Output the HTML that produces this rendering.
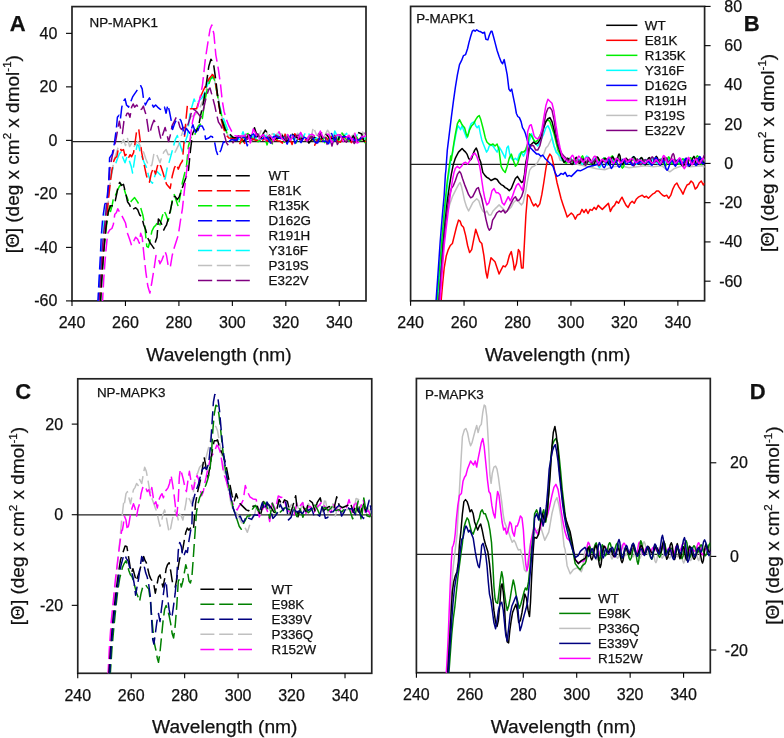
<!DOCTYPE html>
<html><head><meta charset="utf-8"><style>
html,body{margin:0;padding:0;background:#fff;width:784px;height:738px;overflow:hidden}
svg{display:block;will-change:transform}
text{font-family:"Liberation Sans", sans-serif;fill:#111;stroke:#111;stroke-width:0.25px}
</style></head><body>
<svg width="784" height="738" viewBox="0 0 784 738">
<rect x="72.00" y="6.60" width="294.00" height="294.30" fill="none" stroke="#222" stroke-width="1.7"/>
<line x1="72.00" y1="300.90" x2="72.00" y2="305.90" stroke="#000" stroke-width="1.1"/>
<text x="72.00" y="328.10" font-size="16" text-anchor="middle">240</text>
<line x1="125.45" y1="300.90" x2="125.45" y2="305.90" stroke="#000" stroke-width="1.1"/>
<text x="125.45" y="328.10" font-size="16" text-anchor="middle">260</text>
<line x1="178.91" y1="300.90" x2="178.91" y2="305.90" stroke="#000" stroke-width="1.1"/>
<text x="178.91" y="328.10" font-size="16" text-anchor="middle">280</text>
<line x1="232.36" y1="300.90" x2="232.36" y2="305.90" stroke="#000" stroke-width="1.1"/>
<text x="232.36" y="328.10" font-size="16" text-anchor="middle">300</text>
<line x1="285.82" y1="300.90" x2="285.82" y2="305.90" stroke="#000" stroke-width="1.1"/>
<text x="285.82" y="328.10" font-size="16" text-anchor="middle">320</text>
<line x1="339.27" y1="300.90" x2="339.27" y2="305.90" stroke="#000" stroke-width="1.1"/>
<text x="339.27" y="328.10" font-size="16" text-anchor="middle">340</text>
<line x1="66.00" y1="300.90" x2="72.00" y2="300.90" stroke="#000" stroke-width="1.1"/>
<text x="57.30" y="306.40" font-size="16" text-anchor="end">-60</text>
<line x1="66.00" y1="247.39" x2="72.00" y2="247.39" stroke="#000" stroke-width="1.1"/>
<text x="57.30" y="252.89" font-size="16" text-anchor="end">-40</text>
<line x1="66.00" y1="193.88" x2="72.00" y2="193.88" stroke="#000" stroke-width="1.1"/>
<text x="57.30" y="199.38" font-size="16" text-anchor="end">-20</text>
<line x1="66.00" y1="140.37" x2="72.00" y2="140.37" stroke="#000" stroke-width="1.1"/>
<text x="57.30" y="145.87" font-size="16" text-anchor="end">0</text>
<line x1="66.00" y1="86.86" x2="72.00" y2="86.86" stroke="#000" stroke-width="1.1"/>
<text x="57.30" y="92.36" font-size="16" text-anchor="end">20</text>
<line x1="66.00" y1="33.35" x2="72.00" y2="33.35" stroke="#000" stroke-width="1.1"/>
<text x="57.30" y="38.85" font-size="16" text-anchor="end">40</text>
<line x1="72.00" y1="141.70" x2="366.00" y2="141.70" stroke="#222" stroke-width="1.3"/>
<text x="219.00" y="360.80" font-size="19.2" text-anchor="middle">Wavelength (nm)</text>
<text x="89.50" y="26.80" font-size="13.4">NP-MAPK1</text>
<g transform="translate(18.70,154.25) rotate(-90)"><text x="-99.11" y="0" font-size="19.0">[O] (deg x cm<tspan font-size="11.5" dy="-7.5">2</tspan><tspan dy="7.5"> x dmol</tspan><tspan font-size="11.5" dy="-7.5">-1</tspan><tspan dy="7.5">)</tspan></text><path d="M-88.64,-6.54 H-84.24 M-88.64,-8.54 V-4.54 M-84.24,-8.54 V-4.54" stroke="#111" stroke-width="1.2" fill="none"/></g>
<rect x="410.60" y="6.40" width="294.00" height="294.40" fill="none" stroke="#222" stroke-width="1.7"/>
<line x1="410.60" y1="300.80" x2="410.60" y2="305.80" stroke="#000" stroke-width="1.1"/>
<text x="410.60" y="328.00" font-size="16" text-anchor="middle">240</text>
<line x1="464.05" y1="300.80" x2="464.05" y2="305.80" stroke="#000" stroke-width="1.1"/>
<text x="464.05" y="328.00" font-size="16" text-anchor="middle">260</text>
<line x1="517.51" y1="300.80" x2="517.51" y2="305.80" stroke="#000" stroke-width="1.1"/>
<text x="517.51" y="328.00" font-size="16" text-anchor="middle">280</text>
<line x1="570.96" y1="300.80" x2="570.96" y2="305.80" stroke="#000" stroke-width="1.1"/>
<text x="570.96" y="328.00" font-size="16" text-anchor="middle">300</text>
<line x1="624.42" y1="300.80" x2="624.42" y2="305.80" stroke="#000" stroke-width="1.1"/>
<text x="624.42" y="328.00" font-size="16" text-anchor="middle">320</text>
<line x1="677.87" y1="300.80" x2="677.87" y2="305.80" stroke="#000" stroke-width="1.1"/>
<text x="677.87" y="328.00" font-size="16" text-anchor="middle">340</text>
<line x1="704.60" y1="281.17" x2="710.60" y2="281.17" stroke="#000" stroke-width="1.1"/>
<text x="719.14" y="286.67" font-size="16">-60</text>
<line x1="704.60" y1="241.92" x2="710.60" y2="241.92" stroke="#000" stroke-width="1.1"/>
<text x="719.14" y="247.42" font-size="16">-40</text>
<line x1="704.60" y1="202.67" x2="710.60" y2="202.67" stroke="#000" stroke-width="1.1"/>
<text x="719.14" y="208.17" font-size="16">-20</text>
<line x1="704.60" y1="163.41" x2="710.60" y2="163.41" stroke="#000" stroke-width="1.1"/>
<text x="724.30" y="168.91" font-size="16">0</text>
<line x1="704.60" y1="124.16" x2="710.60" y2="124.16" stroke="#000" stroke-width="1.1"/>
<text x="724.30" y="129.66" font-size="16">20</text>
<line x1="704.60" y1="84.91" x2="710.60" y2="84.91" stroke="#000" stroke-width="1.1"/>
<text x="724.30" y="90.41" font-size="16">40</text>
<line x1="704.60" y1="45.65" x2="710.60" y2="45.65" stroke="#000" stroke-width="1.1"/>
<text x="724.30" y="51.15" font-size="16">60</text>
<line x1="704.60" y1="6.40" x2="710.60" y2="6.40" stroke="#000" stroke-width="1.1"/>
<text x="724.30" y="11.90" font-size="16">80</text>
<line x1="410.60" y1="164.40" x2="704.60" y2="164.40" stroke="#222" stroke-width="1.3"/>
<text x="557.60" y="360.70" font-size="19.2" text-anchor="middle">Wavelength (nm)</text>
<text x="416.20" y="23.00" font-size="13.4">P-MAPK1</text>
<g transform="translate(773.50,153.00) rotate(-90)"><text x="-99.11" y="0" font-size="19.0">[O] (deg x cm<tspan font-size="11.5" dy="-7.5">2</tspan><tspan dy="7.5"> x dmol</tspan><tspan font-size="11.5" dy="-7.5">-1</tspan><tspan dy="7.5">)</tspan></text><path d="M-88.64,-6.54 H-84.24 M-88.64,-8.54 V-4.54 M-84.24,-8.54 V-4.54" stroke="#111" stroke-width="1.2" fill="none"/></g>
<rect x="77.75" y="378.80" width="294.00" height="294.50" fill="none" stroke="#222" stroke-width="1.7"/>
<line x1="77.75" y1="673.30" x2="77.75" y2="678.30" stroke="#000" stroke-width="1.1"/>
<text x="77.75" y="700.50" font-size="16" text-anchor="middle">240</text>
<line x1="131.20" y1="673.30" x2="131.20" y2="678.30" stroke="#000" stroke-width="1.1"/>
<text x="131.20" y="700.50" font-size="16" text-anchor="middle">260</text>
<line x1="184.66" y1="673.30" x2="184.66" y2="678.30" stroke="#000" stroke-width="1.1"/>
<text x="184.66" y="700.50" font-size="16" text-anchor="middle">280</text>
<line x1="238.11" y1="673.30" x2="238.11" y2="678.30" stroke="#000" stroke-width="1.1"/>
<text x="238.11" y="700.50" font-size="16" text-anchor="middle">300</text>
<line x1="291.57" y1="673.30" x2="291.57" y2="678.30" stroke="#000" stroke-width="1.1"/>
<text x="291.57" y="700.50" font-size="16" text-anchor="middle">320</text>
<line x1="345.02" y1="673.30" x2="345.02" y2="678.30" stroke="#000" stroke-width="1.1"/>
<text x="345.02" y="700.50" font-size="16" text-anchor="middle">340</text>
<line x1="71.75" y1="605.34" x2="77.75" y2="605.34" stroke="#000" stroke-width="1.1"/>
<text x="63.05" y="610.84" font-size="16" text-anchor="end">-20</text>
<line x1="71.75" y1="514.72" x2="77.75" y2="514.72" stroke="#000" stroke-width="1.1"/>
<text x="63.05" y="520.22" font-size="16" text-anchor="end">0</text>
<line x1="71.75" y1="424.11" x2="77.75" y2="424.11" stroke="#000" stroke-width="1.1"/>
<text x="63.05" y="429.61" font-size="16" text-anchor="end">20</text>
<line x1="77.75" y1="514.90" x2="371.75" y2="514.90" stroke="#222" stroke-width="1.3"/>
<text x="224.75" y="733.20" font-size="19.2" text-anchor="middle">Wavelength (nm)</text>
<text x="96.90" y="397.40" font-size="13.4">NP-MAPK3</text>
<g transform="translate(24.20,526.05) rotate(-90)"><text x="-99.11" y="0" font-size="19.0">[O] (deg x cm<tspan font-size="11.5" dy="-7.5">2</tspan><tspan dy="7.5"> x dmol</tspan><tspan font-size="11.5" dy="-7.5">-1</tspan><tspan dy="7.5">)</tspan></text><path d="M-88.64,-6.54 H-84.24 M-88.64,-8.54 V-4.54 M-84.24,-8.54 V-4.54" stroke="#111" stroke-width="1.2" fill="none"/></g>
<rect x="416.40" y="378.50" width="293.90" height="294.20" fill="none" stroke="#222" stroke-width="1.7"/>
<line x1="416.40" y1="672.70" x2="416.40" y2="677.70" stroke="#000" stroke-width="1.1"/>
<text x="416.40" y="699.90" font-size="16" text-anchor="middle">240</text>
<line x1="469.84" y1="672.70" x2="469.84" y2="677.70" stroke="#000" stroke-width="1.1"/>
<text x="469.84" y="699.90" font-size="16" text-anchor="middle">260</text>
<line x1="523.27" y1="672.70" x2="523.27" y2="677.70" stroke="#000" stroke-width="1.1"/>
<text x="523.27" y="699.90" font-size="16" text-anchor="middle">280</text>
<line x1="576.71" y1="672.70" x2="576.71" y2="677.70" stroke="#000" stroke-width="1.1"/>
<text x="576.71" y="699.90" font-size="16" text-anchor="middle">300</text>
<line x1="630.15" y1="672.70" x2="630.15" y2="677.70" stroke="#000" stroke-width="1.1"/>
<text x="630.15" y="699.90" font-size="16" text-anchor="middle">320</text>
<line x1="683.58" y1="672.70" x2="683.58" y2="677.70" stroke="#000" stroke-width="1.1"/>
<text x="683.58" y="699.90" font-size="16" text-anchor="middle">340</text>
<line x1="710.30" y1="650.00" x2="716.30" y2="650.00" stroke="#000" stroke-width="1.1"/>
<text x="724.84" y="655.50" font-size="16">-20</text>
<line x1="710.30" y1="556.40" x2="716.30" y2="556.40" stroke="#000" stroke-width="1.1"/>
<text x="730.00" y="561.90" font-size="16">0</text>
<line x1="710.30" y1="462.79" x2="716.30" y2="462.79" stroke="#000" stroke-width="1.1"/>
<text x="730.00" y="468.29" font-size="16">20</text>
<line x1="416.40" y1="554.40" x2="710.30" y2="554.40" stroke="#222" stroke-width="1.3"/>
<text x="563.35" y="732.60" font-size="19.2" text-anchor="middle">Wavelength (nm)</text>
<text x="425.00" y="399.00" font-size="13.4">P-MAPK3</text>
<g transform="translate(779.20,525.60) rotate(-90)"><text x="-99.11" y="0" font-size="19.0">[O] (deg x cm<tspan font-size="11.5" dy="-7.5">2</tspan><tspan dy="7.5"> x dmol</tspan><tspan font-size="11.5" dy="-7.5">-1</tspan><tspan dy="7.5">)</tspan></text><path d="M-88.64,-6.54 H-84.24 M-88.64,-8.54 V-4.54 M-84.24,-8.54 V-4.54" stroke="#111" stroke-width="1.2" fill="none"/></g>
<clipPath id="clipA"><rect x="72.00" y="6.60" width="294.00" height="294.30"/></clipPath>
<g clip-path="url(#clipA)" fill="none" stroke-width="1.5" stroke-linejoin="round" stroke-dasharray="13 5">
<path d="M98.7,305.4 L100.1,278.3 L101.5,257.0 L102.7,241.3 L104.5,221.4 L106.5,207.1 L107.0,215.0 L110.0,185.0 L114.0,160.0 L118.0,148.0 L121.4,143.5 L123.5,139.5 L125.5,145.6 L127.5,138.5 L129.6,146.6 L131.6,143.5 L133.6,147.6 L135.7,143.5 L137.7,141.5 L139.7,144.6 L141.7,148.6 L143.8,152.7 L145.8,158.8 L147.8,163.9 L149.9,166.9 L151.9,164.9 L153.9,153.7 L156.0,152.7 L158.0,157.8 L160.0,162.8 L162.1,155.7 L164.1,151.7 L166.1,149.6 L168.2,154.7 L174.3,153.8 L178.3,145.7 L181.4,135.5 L184.4,127.4 L187.5,125.4 L190.5,117.2 L194.6,115.2 L198.7,111.1 L202.7,101.0 L205.8,90.8 L208.8,78.6 L211.3,73.5 L213.9,77.6 L217.0,90.8 L220.0,107.1 L223.0,121.3 L226.1,131.5 L229.1,137.6 L233.2,139.6 L235.8,137.5 L238.2,138.8 L240.9,136.2 L244.1,133.7 L246.4,133.4 L248.8,133.8 L251.5,141.4 L254.0,132.7 L256.3,135.8 L258.6,137.1 L261.8,128.8 L264.6,138.5 L267.7,132.9 L270.4,135.5 L272.8,133.6 L275.1,135.4 L278.1,133.2 L281.3,134.1 L284.5,132.5 L287.1,134.8 L289.7,137.8 L292.7,135.5 L295.0,140.0 L297.5,133.2 L300.0,136.3 L302.3,134.8 L305.5,139.9 L308.4,136.6 L311.2,136.9 L313.4,127.0 L316.6,135.3 L319.5,132.9 L322.6,138.5 L325.1,134.9 L327.6,130.2 L330.3,134.5 L332.5,134.9 L335.6,135.1 L338.3,137.3 L341.4,133.9 L343.9,134.1 L346.2,135.3 L349.3,135.3 L351.9,136.3 L354.1,134.1 L357.3,139.8 L359.6,141.5 L362.6,131.9 L365.7,137.9 L367.9,134.9 L370.7,134.9" stroke="#c0c0c0"/>
<path d="M98.4,305.4 L99.8,278.3 L101.3,257.0 L102.3,242.7 L104.1,221.4 L106.2,207.1 L108.0,195.0 L111.0,175.0 L113.3,166.9 L115.3,164.9 L117.4,158.8 L119.4,153.7 L121.4,151.7 L122.9,157.8 L125.0,162.8 L127.0,156.7 L129.0,159.8 L131.1,165.9 L132.6,173.0 L134.1,162.8 L135.7,152.7 L137.2,144.6 L138.7,145.6 L140.2,152.7 L142.3,157.8 L144.3,162.8 L146.3,166.9 L148.4,175.0 L150.4,181.1 L152.4,183.2 L154.5,177.1 L156.5,171.0 L158.5,173.0 L160.5,175.0 L162.6,179.1 L165.1,179.1 L167.2,167.9 L168.7,163.9 L175.3,139.6 L177.3,135.5 L180.4,145.7 L182.4,151.8 L184.4,143.7 L187.5,135.5 L189.9,113.7 L194.1,99.0 L196.0,103.9 L198.4,101.5 L202.1,97.8 L205.7,90.5 L209.4,79.5 L211.2,77.1 L213.7,79.5 L215.5,84.4 L217.9,99.0 L221.6,113.7 L224.0,119.8 L227.1,128.3 L230.1,135.6 L232.6,139.3 L234.8,139.4 L237.2,139.9 L240.1,139.2 L243.0,131.7 L246.1,140.6 L249.0,139.8 L251.2,138.3 L253.9,135.9 L257.0,140.0 L259.7,140.8 L262.0,137.2 L264.6,135.1 L267.6,137.1 L270.7,140.1 L273.2,132.6 L275.4,137.2 L278.1,134.9 L281.2,139.3 L284.2,139.3 L287.0,135.6 L289.7,136.8 L292.4,138.6 L294.8,139.2 L297.1,136.2 L300.0,133.5 L302.3,138.8 L305.2,133.4 L308.0,131.9 L310.9,138.1 L313.2,138.9 L316.1,137.7 L319.0,139.9 L321.2,138.3 L324.0,138.0 L326.4,138.3 L329.3,142.3 L332.2,142.9 L334.8,131.0 L337.6,136.8 L340.3,141.9 L343.4,136.8 L346.6,133.2 L348.8,140.8 L351.9,138.3 L354.3,138.7 L357.2,134.7 L359.9,135.6 L362.4,139.4 L364.9,138.4 L368.0,133.0 L370.3,137.4" stroke="#00ffff"/>
<path d="M100.5,305.4 L102.0,278.3 L103.4,257.0 L104.8,241.3 L106.2,228.5 L107.7,215.7 L109.8,205.7 L110.2,212.8 L112.3,204.7 L113.7,196.6 L115.3,195.6 L117.4,190.5 L119.4,186.4 L121.4,184.4 L123.5,186.4 L125.5,193.5 L127.5,198.6 L129.6,203.7 L131.6,200.7 L134.6,197.6 L136.7,200.7 L138.7,203.7 L140.7,207.8 L142.8,214.9 L144.8,225.0 L145.8,237.2 L146.8,246.4 L148.3,247.4 L149.9,241.3 L151.9,231.1 L153.9,227.1 L156.0,225.0 L158.0,221.0 L160.0,225.0 L162.1,216.9 L164.1,210.8 L166.1,214.9 L168.2,221.0 L170.2,212.8 L172.2,200.7 L174.3,194.6 L176.3,200.7 L178.3,206.7 L180.4,194.6 L182.4,182.4 L186.5,166.0 L188.5,145.7 L191.5,135.5 L194.6,135.5 L196.6,129.4 L198.7,125.4 L201.7,123.3 L204.8,101.0 L207.8,86.7 L210.9,78.6 L212.9,76.6 L214.9,80.7 L217.0,92.8 L220.0,109.1 L223.0,121.3 L227.1,133.5 L231.2,137.6 L233.3,137.3 L235.7,139.9 L238.1,136.0 L241.0,142.5 L244.1,136.0 L247.3,133.8 L250.1,133.3 L252.5,139.8 L255.1,139.2 L258.1,141.7 L261.2,139.4 L263.9,135.6 L267.1,144.9 L269.5,134.7 L272.4,143.8 L274.8,141.9 L277.5,138.9 L280.1,136.6 L282.7,138.2 L285.0,143.3 L287.8,135.3 L290.7,138.1 L293.3,138.0 L295.6,144.2 L297.8,138.7 L300.5,139.5 L302.8,136.3 L305.4,137.3 L308.3,138.1 L311.1,136.0 L313.5,140.6 L316.1,139.5 L319.2,143.1 L322.0,136.3 L325.1,143.5 L327.5,140.6 L329.7,135.6 L332.8,140.9 L335.6,135.2 L338.3,142.4 L341.3,132.0 L344.3,136.6 L346.5,139.7 L348.7,140.0 L351.4,142.3 L353.8,141.3 L356.3,136.5 L359.3,141.2 L362.2,139.5 L364.6,143.3 L367.3,133.5 L369.6,140.5" stroke="#00ee00"/>
<path d="M99.8,305.4 L101.3,278.3 L102.7,259.8 L104.1,242.7 L105.5,228.5 L107.0,214.2 L108.4,200.0 L110.2,183.2 L111.8,171.0 L113.8,160.8 L115.3,157.8 L116.8,156.7 L118.4,148.6 L119.9,147.6 L121.4,150.7 L123.5,149.6 L125.0,155.7 L127.0,153.7 L128.5,157.8 L130.1,154.7 L131.6,156.7 L133.6,152.7 L135.1,142.5 L136.7,130.3 L138.7,128.8 L140.2,140.5 L141.7,152.7 L143.3,160.8 L144.8,167.9 L146.3,175.0 L147.8,180.1 L149.4,182.2 L151.4,173.0 L153.4,167.9 L155.5,174.0 L157.5,165.9 L159.0,162.8 L161.1,166.9 L163.1,173.0 L165.1,180.1 L166.6,184.2 L170.2,188.5 L172.2,176.3 L174.3,168.1 L176.3,164.1 L178.3,169.1 L180.4,164.1 L182.4,161.0 L186.2,117.3 L187.4,105.1 L190.5,108.8 L193.5,108.8 L196.6,108.8 L199.6,99.0 L203.3,90.5 L206.3,84.4 L209.4,78.3 L212.4,74.6 L213.7,75.9 L215.5,83.2 L217.3,94.1 L219.1,106.3 L221.0,118.5 L223.4,128.3 L226.5,135.6 L228.9,138.0 L231.5,138.2 L233.8,138.5 L236.3,138.7 L239.5,144.8 L241.7,138.3 L244.7,143.4 L247.6,136.7 L250.0,138.1 L253.0,139.3 L256.1,140.4 L259.0,139.9 L262.1,141.5 L264.4,137.6 L267.2,141.3 L269.5,138.0 L271.8,142.0 L274.8,139.4 L277.5,140.7 L279.8,140.9 L282.4,143.1 L285.1,134.1 L287.4,144.8 L289.7,138.1 L292.1,144.5 L294.8,133.7 L297.7,138.8 L300.6,139.3 L303.4,142.2 L305.9,139.2 L308.7,140.0 L311.5,136.8 L314.6,145.3 L317.4,139.5 L320.5,138.6 L323.3,141.6 L326.1,137.4 L329.2,141.7 L331.8,136.3 L334.8,136.9 L337.5,141.3 L340.5,142.3 L342.8,137.5 L345.9,138.3 L348.3,136.8 L351.4,142.7 L353.7,137.2 L355.9,139.0 L358.4,138.7 L361.3,138.6 L364.3,140.8 L367.4,142.5 L370.2,140.3" stroke="#ff0000"/>
<path d="M100.3,305.4 L101.7,279.8 L103.1,259.8 L104.5,242.7 L106.2,225.6 L108.4,211.4 L110.5,205.7 L113.3,205.7 L115.3,200.7 L117.0,192.5 L118.4,184.4 L119.8,182.4 L121.4,185.4 L123.5,184.4 L125.5,192.5 L127.5,201.7 L129.6,204.7 L131.6,209.8 L133.6,208.8 L135.7,207.8 L137.7,209.8 L139.7,214.9 L141.7,216.9 L143.8,225.0 L145.8,230.1 L147.4,237.2 L148.9,240.3 L150.3,243.3 L151.9,245.4 L153.9,248.4 L155.6,241.3 L157.0,237.2 L158.4,218.9 L160.0,221.0 L162.1,225.0 L163.7,230.1 L165.1,227.1 L166.5,225.0 L168.2,218.9 L169.8,212.8 L171.2,206.7 L173.3,196.6 L175.3,196.6 L177.3,199.6 L179.3,196.6 L181.4,190.5 L188.5,170.1 L190.5,149.8 L192.6,133.5 L194.6,129.4 L196.6,131.5 L198.7,125.4 L200.7,115.2 L203.7,101.0 L206.8,80.7 L208.8,66.4 L210.9,59.3 L213.3,62.4 L215.9,80.7 L218.0,98.9 L221.0,117.2 L225.1,129.4 L229.1,133.5 L233.2,137.6 L235.9,137.8 L238.6,136.1 L240.9,136.8 L243.3,141.5 L246.2,138.3 L248.4,134.6 L251.3,136.0 L254.5,127.7 L257.1,136.0 L260.0,140.2 L262.6,134.8 L265.3,130.1 L268.5,134.9 L271.0,139.0 L273.7,139.9 L276.4,138.2 L279.1,138.2 L281.5,133.5 L284.5,140.1 L287.3,141.5 L289.7,136.0 L292.5,134.2 L295.2,136.8 L297.5,137.5 L300.5,139.3 L303.6,137.7 L306.7,139.9 L308.9,143.1 L312.0,139.4 L314.3,137.0 L316.8,139.3 L319.8,132.6 L322.2,138.7 L324.6,133.2 L326.8,134.9 L329.7,138.4 L332.8,138.3 L335.0,137.8 L337.6,141.6 L339.8,134.9 L342.0,137.2 L344.3,136.0 L347.4,138.9 L350.4,140.7 L353.3,135.9 L355.6,140.0 L358.8,132.6 L361.7,134.0 L364.0,141.2 L366.6,136.6 L369.7,136.5" stroke="#000000"/>
<path d="M98.8,305.4 L100.3,279.8 L101.7,257.0 L103.4,235.6 L105.1,221.4 L106.5,205.7 L107.6,196.6 L109.6,172.2 L110.2,166.0 L112.3,155.9 L114.3,147.7 L116.3,137.6 L118.4,125.4 L119.4,121.3 L121.0,131.5 L122.4,133.5 L123.9,121.3 L125.5,117.2 L127.1,113.2 L128.5,113.2 L130.0,117.2 L131.6,107.1 L133.2,104.0 L134.6,107.1 L136.7,105.0 L138.1,107.1 L139.7,110.1 L141.7,109.1 L143.4,106.1 L144.8,111.1 L146.2,115.2 L147.4,123.3 L148.9,133.5 L150.3,131.5 L151.9,125.4 L153.9,120.3 L156.0,123.3 L158.0,125.4 L159.6,133.5 L161.1,139.6 L163.1,133.5 L165.1,127.4 L167.2,135.5 L168.6,141.6 L170.2,135.5 L172.2,125.4 L174.3,121.3 L176.3,117.2 L178.3,121.3 L180.0,127.4 L181.4,129.4 L183.4,127.4 L186.8,128.3 L189.9,118.5 L192.3,108.8 L194.8,110.0 L197.2,112.4 L200.9,117.3 L203.3,110.0 L206.3,96.6 L208.8,89.3 L210.0,88.0 L212.4,96.6 L214.9,106.3 L216.7,114.9 L218.5,122.2 L221.0,125.9 L222.8,130.7 L224.6,135.6 L226.5,142.9 L228.3,145.4 L230.1,144.1 L232.1,143.8 L235.3,139.3 L238.5,136.4 L241.2,138.2 L244.2,135.3 L247.1,139.5 L249.6,136.5 L252.8,142.4 L255.2,135.1 L257.9,133.8 L260.5,139.9 L262.9,137.4 L265.3,138.5 L267.8,136.9 L270.8,141.7 L273.1,144.2 L275.7,135.2 L278.6,136.9 L280.9,138.0 L283.8,133.9 L286.1,139.6 L288.4,136.0 L290.8,140.0 L293.7,138.7 L296.4,135.4 L298.7,135.2 L301.6,140.8 L304.7,137.8 L307.4,141.2 L310.1,138.0 L312.6,136.4 L315.5,144.3 L318.6,139.0 L321.7,132.7 L324.5,135.0 L327.1,144.4 L329.5,136.5 L332.0,146.1 L334.8,135.3 L337.4,144.5 L340.2,139.4 L343.2,139.0 L346.4,142.2 L348.8,136.8 L351.6,139.3 L354.3,143.5 L356.7,139.8 L359.1,139.8 L362.3,135.6 L365.2,133.0 L367.8,138.1 L370.1,138.7" stroke="#800080"/>
<path d="M97.7,305.4 L99.1,278.3 L100.3,257.0 L101.3,235.6 L102.7,218.5 L104.8,204.3 L106.8,200.7 L108.8,180.3 L109.6,157.9 L112.3,153.8 L114.3,143.7 L116.3,129.4 L117.4,117.2 L119.0,115.2 L120.4,119.3 L121.8,107.1 L123.5,101.0 L125.1,98.9 L126.5,105.0 L128.5,107.1 L130.6,102.0 L132.6,96.9 L134.6,93.9 L136.7,90.8 L138.7,88.8 L140.7,85.7 L142.2,88.8 L143.4,97.9 L145.4,105.0 L147.4,101.0 L149.5,97.9 L151.5,103.0 L153.5,107.1 L155.6,105.0 L157.6,107.1 L160.0,109.1 L162.5,110.1 L164.5,107.1 L166.1,113.2 L167.8,105.0 L169.4,111.1 L171.0,119.3 L172.6,129.4 L174.7,123.3 L176.7,119.3 L178.7,118.3 L180.8,120.3 L182.4,125.4 L184.0,135.5 L186.2,128.3 L189.9,133.2 L192.9,124.6 L194.8,130.7 L196.6,134.4 L199.6,125.9 L202.1,125.9 L203.9,129.5 L205.7,139.3 L208.8,138.0 L210.6,136.2 L212.4,136.8 L214.3,140.5 L216.1,150.2 L218.0,155.9 L221.0,149.8 L223.5,141.6 L226.1,143.7 L229.1,141.6 L231.2,139.6 L234.1,140.0 L236.9,140.5 L239.5,135.2 L241.8,137.0 L244.7,137.4 L247.3,145.8 L249.7,139.1 L252.7,133.3 L255.9,136.9 L259.0,138.7 L261.6,139.2 L264.6,137.1 L267.5,138.0 L270.6,143.1 L273.4,136.6 L275.6,136.8 L278.7,137.9 L281.4,138.5 L284.3,137.6 L287.2,144.1 L289.9,137.0 L292.5,132.2 L295.1,143.5 L298.0,138.0 L301.0,142.6 L304.1,137.1 L306.8,138.6 L309.9,138.2 L312.5,137.8 L315.1,142.2 L317.7,143.0 L320.3,137.1 L323.0,141.6 L325.4,141.0 L328.6,143.7 L331.6,133.4 L334.6,141.1 L337.7,134.9 L340.4,136.8 L343.1,136.7 L346.2,136.8 L349.0,139.2 L351.6,135.3 L354.2,140.4 L357.0,140.1 L359.8,139.7 L362.1,136.8 L365.3,137.4 L367.9,139.0 L370.2,147.2" stroke="#0000ff"/>
<path d="M102.3,305.4 L103.7,279.8 L104.8,264.1 L106.0,249.9 L107.0,239.9 L108.0,232.8 L109.8,229.9 L111.9,228.5 L113.4,224.2 L114.8,214.2 L116.3,212.8 L117.8,208.8 L119.4,211.8 L121.4,214.9 L123.5,218.9 L125.5,223.0 L127.5,233.2 L129.6,239.3 L131.6,245.4 L133.6,241.3 L135.7,237.2 L137.7,239.3 L139.3,243.3 L140.7,233.2 L142.2,237.2 L143.8,253.5 L145.8,271.8 L147.8,286.0 L149.9,293.1 L151.9,282.0 L153.9,269.8 L156.0,255.5 L158.0,257.6 L160.0,263.7 L162.1,259.6 L165.1,251.5 L166.5,255.5 L168.2,265.7 L170.2,267.7 L172.2,255.5 L174.3,247.4 L176.3,241.3 L178.3,235.2 L180.4,221.0 L182.4,208.8 L184.4,190.5 L186.5,172.2 L188.5,155.9 L190.5,135.5 L192.6,121.3 L194.6,113.2 L196.6,111.1 L198.7,103.0 L200.7,94.9 L202.5,85.0 L205.4,58.6 L208.2,40.6 L210.1,29.2 L211.8,25.0 L213.9,34.0 L215.8,54.8 L218.2,68.1 L220.1,81.4 L220.4,83.2 L222.2,100.2 L224.0,111.2 L226.5,119.8 L228.9,125.9 L231.3,130.7 L233.8,135.6 L236.6,135.9 L239.0,136.2 L241.6,135.9 L244.5,136.0 L247.5,131.9 L250.3,143.0 L253.3,128.9 L255.9,133.8 L258.3,139.9 L260.9,136.4 L263.4,134.6 L265.8,140.4 L268.2,135.5 L270.7,136.1 L273.3,141.0 L276.0,136.3 L279.1,131.8 L281.6,138.2 L284.8,140.9 L287.7,134.5 L290.3,140.3 L293.2,136.3 L295.5,136.7 L298.1,138.8 L300.7,132.4 L303.8,139.9 L306.7,140.8 L309.5,135.1 L312.2,134.2 L314.9,136.3 L317.3,138.0 L320.3,131.0 L323.2,137.6 L325.8,134.1 L328.7,134.3 L331.8,142.4 L334.9,137.6 L337.8,134.5 L340.7,135.9 L343.7,142.5 L346.3,137.3 L349.0,135.2 L352.1,140.5 L354.8,133.2 L357.1,143.1 L360.0,141.2 L362.2,136.3 L364.5,136.7 L367.1,135.0 L370.3,141.0" stroke="#ff00ff"/>
</g>
<clipPath id="clipB"><rect x="410.60" y="6.40" width="294.00" height="294.40"/></clipPath>
<g clip-path="url(#clipB)" fill="none" stroke-width="1.5" stroke-linejoin="round">
<path d="M438.1,300.0 L440.2,272.0 L442.2,247.6 L444.2,229.3 L446.3,217.1 L448.3,208.9 L450.3,202.8 L452.4,196.7 L454.4,192.7 L456.4,188.6 L458.5,184.6 L460.1,182.5 L461.5,186.6 L462.9,192.7 L464.6,200.8 L466.6,206.9 L468.6,211.0 L470.7,206.9 L472.7,202.8 L474.7,200.8 L476.7,198.8 L478.8,200.8 L480.8,206.9 L482.8,211.0 L484.9,213.0 L486.9,211.0 L488.9,215.0 L491.0,215.0 L493.0,211.0 L495.0,208.9 L497.1,206.9 L499.1,204.9 L501.1,206.9 L503.2,208.9 L505.2,211.0 L507.2,211.0 L509.3,208.9 L511.3,206.9 L513.3,202.8 L515.4,200.8 L517.4,198.8 L519.4,202.8 L521.5,204.9 L523.1,202.8 L524.5,196.7 L525.9,190.7 L527.6,180.5 L529.6,170.3 L531.6,167.3 L533.7,166.3 L535.7,165.2 L537.7,162.2 L539.8,158.1 L543.8,154.1 L545.9,148.0 L547.9,146.0 L549.9,142.0 L552.0,137.9 L554.0,146.0 L556.0,150.1 L558.0,154.1 L560.1,160.2 L596.6,168.8 L604.7,169.8 L612.8,166.7 L621.0,165.7 L629.1,167.8 L637.2,166.7 L645.4,165.7 L653.5,166.7 L661.6,165.7 L665.7,168.8 L669.8,171.8 L673.8,168.8 L682.0,165.7 L690.1,166.7 L702.3,165.7 L703.4,166.0 L704.5,166.8 L705.6,167.5 L706.7,167.8 L707.3,167.3 L708.0,166.0 L708.6,164.7 L709.3,164.2 L710.2,165.3 L711.2,168.1 L712.2,170.8 L713.1,171.9" stroke="#c0c0c0"/>
<path d="M437.7,300.0 L439.8,272.0 L441.8,247.6 L443.8,223.2 L445.9,200.8 L447.9,180.5 L449.9,166.3 L451.3,156.1 L452.4,154.1 L454.4,142.0 L456.4,131.8 L458.0,125.7 L459.5,127.7 L460.5,129.8 L462.1,125.7 L463.5,129.8 L465.0,133.8 L466.6,137.9 L468.2,133.8 L469.6,127.7 L471.1,123.7 L472.7,122.6 L474.3,121.6 L475.7,125.7 L477.2,127.7 L478.8,125.7 L480.4,133.8 L481.8,139.9 L483.3,144.0 L484.9,148.0 L486.5,152.1 L487.9,150.1 L489.3,146.0 L491.0,145.0 L493.0,146.0 L495.0,149.1 L497.1,152.1 L499.1,147.0 L501.1,150.1 L503.2,154.1 L505.2,158.2 L506.8,148.0 L508.3,146.0 L509.7,154.1 L511.3,158.2 L513.3,160.2 L515.4,158.2 L517.4,160.2 L519.4,154.1 L521.5,152.1 L523.5,156.2 L525.5,152.1 L527.6,146.0 L529.6,139.9 L531.6,133.8 L533.7,139.9 L535.7,144.0 L537.7,146.0 L539.8,142.0 L541.8,137.9 L543.8,133.8 L545.9,127.7 L547.9,125.7 L549.9,129.8 L552.0,137.9 L554.0,146.0 L556.0,152.1 L558.0,154.1 L560.1,156.2 L562.1,160.2 L563.1,160.5 L564.0,161.0 L565.0,161.5 L566.0,161.7 L567.1,161.2 L568.1,160.1 L569.2,158.9 L570.3,158.4 L571.4,159.2 L572.4,161.0 L573.5,162.8 L574.5,163.6 L575.6,163.0 L576.6,161.5 L577.7,160.1 L578.7,159.4 L579.6,160.2 L580.6,161.9 L581.5,163.6 L582.5,164.3 L583.5,163.1 L584.6,160.2 L585.7,157.2 L586.8,156.0 L587.7,157.0 L588.7,159.5 L589.7,162.1 L590.7,163.1 L591.8,162.4 L592.8,160.7 L593.9,159.0 L594.9,158.3 L596.1,159.6 L597.2,162.9 L598.3,166.2 L599.4,167.6 L600.5,166.2 L601.7,162.8 L602.8,159.3 L603.9,157.9 L604.8,159.0 L605.6,161.5 L606.5,164.0 L607.4,165.0 L608.3,164.2 L609.2,162.0 L610.2,159.8 L611.1,158.9 L611.9,159.4 L612.7,160.6 L613.5,161.7 L614.3,162.2 L615.4,161.7 L616.6,160.7 L617.7,159.6 L618.8,159.1 L619.6,159.8 L620.4,161.6 L621.1,163.3 L621.9,164.0 L622.9,163.3 L623.9,161.7 L624.8,160.0 L625.8,159.3 L626.9,159.9 L627.9,161.3 L629.0,162.6 L630.0,163.2 L630.9,162.2 L631.8,159.8 L632.6,157.5 L633.5,156.5 L634.3,157.7 L635.0,160.4 L635.8,163.2 L636.6,164.4 L637.3,163.5 L638.1,161.5 L638.9,159.5 L639.7,158.7 L640.5,159.5 L641.2,161.4 L642.0,163.3 L642.8,164.1 L643.5,163.4 L644.3,161.7 L645.1,160.1 L645.8,159.4 L646.9,160.1 L648.0,161.8 L649.1,163.5 L650.2,164.2 L651.0,163.2 L651.7,161.0 L652.4,158.8 L653.2,157.8 L654.3,158.7 L655.4,160.8 L656.5,163.0 L657.6,163.8 L658.8,163.0 L659.9,161.1 L661.0,159.2 L662.2,158.4 L663.0,158.9 L663.8,160.3 L664.6,161.7 L665.4,162.2 L666.1,161.8 L666.8,160.7 L667.5,159.6 L668.2,159.2 L668.9,159.7 L669.6,160.8 L670.3,161.9 L671.0,162.4 L672.1,162.0 L673.2,161.0 L674.4,160.1 L675.5,159.7 L676.5,160.3 L677.5,161.8 L678.4,163.3 L679.4,163.9 L680.2,163.2 L681.1,161.5 L681.9,159.7 L682.8,159.0 L683.5,159.4 L684.2,160.5 L684.9,161.6 L685.6,162.1 L686.5,161.6 L687.4,160.6 L688.3,159.6 L689.2,159.2 L689.9,159.7 L690.6,160.7 L691.2,161.8 L691.9,162.2 L692.8,161.8 L693.8,160.9 L694.7,160.0 L695.7,159.6 L696.7,160.2 L697.6,161.6 L698.6,163.0 L699.5,163.6 L700.5,163.0 L701.4,161.5 L702.3,160.1 L703.3,159.5 L704.2,159.9 L705.1,160.9 L706.0,161.8 L707.0,162.2 L708.0,161.1 L709.0,158.4 L710.0,155.7 L711.0,154.5" stroke="#00ffff"/>
<path d="M437.1,300.0 L439.1,272.0 L441.2,247.6 L443.2,223.2 L445.2,200.8 L447.3,180.5 L449.3,166.3 L450.7,156.1 L451.3,160.2 L453.4,146.0 L455.4,133.8 L457.4,123.7 L459.5,119.6 L461.5,123.7 L462.9,125.7 L464.6,127.7 L466.2,133.8 L467.6,136.9 L469.6,129.8 L471.7,125.7 L473.7,123.7 L475.7,119.6 L477.8,116.5 L479.2,115.5 L480.8,119.6 L482.4,125.7 L483.9,131.8 L485.3,137.9 L486.9,142.0 L488.9,144.0 L491.0,145.0 L493.0,144.0 L495.0,146.0 L497.1,144.0 L499.1,150.1 L501.1,166.3 L503.2,170.3 L505.2,172.4 L507.2,166.3 L509.3,158.1 L511.3,154.1 L513.3,160.2 L515.4,166.3 L517.4,164.2 L519.4,158.1 L521.5,152.0 L523.5,152.1 L525.5,150.1 L527.6,144.0 L529.6,133.8 L531.6,135.9 L533.7,139.9 L535.7,142.0 L537.7,139.9 L539.8,135.9 L541.8,131.8 L543.8,125.7 L545.9,121.6 L547.9,119.6 L549.9,121.6 L552.0,127.7 L554.0,133.8 L556.0,142.0 L558.0,150.1 L560.1,154.1 L562.1,158.2 L564.1,162.3 L566.2,163.3 L567.2,162.5 L568.1,160.7 L569.1,158.8 L570.1,158.1 L570.8,158.6 L571.5,160.0 L572.2,161.4 L572.9,161.9 L573.7,161.7 L574.5,161.1 L575.3,160.6 L576.2,160.3 L577.0,160.7 L577.8,161.4 L578.6,162.2 L579.4,162.5 L580.2,161.6 L580.9,159.2 L581.7,156.9 L582.5,155.9 L583.3,157.3 L584.1,160.4 L584.9,163.6 L585.7,165.0 L586.6,164.3 L587.5,162.6 L588.3,160.9 L589.2,160.2 L590.0,161.0 L590.8,163.0 L591.5,164.9 L592.3,165.7 L593.4,164.6 L594.5,161.9 L595.6,159.1 L596.7,158.0 L597.6,158.5 L598.5,159.9 L599.3,161.2 L600.2,161.7 L601.3,161.2 L602.4,159.8 L603.4,158.5 L604.5,157.9 L605.4,158.5 L606.3,160.0 L607.2,161.4 L608.1,162.0 L609.1,161.1 L610.2,158.9 L611.3,156.8 L612.4,155.9 L613.2,157.0 L614.0,159.6 L614.7,162.1 L615.5,163.2 L616.2,162.5 L616.9,160.7 L617.6,158.9 L618.3,158.2 L619.3,159.6 L620.4,163.2 L621.4,166.7 L622.4,168.1 L623.4,166.9 L624.4,164.1 L625.4,161.2 L626.4,160.0 L627.3,160.2 L628.2,160.9 L629.1,161.5 L630.0,161.8 L631.1,161.3 L632.2,160.2 L633.4,159.1 L634.5,158.6 L635.5,159.1 L636.4,160.3 L637.4,161.5 L638.4,162.0 L639.1,161.4 L639.9,159.9 L640.6,158.4 L641.3,157.8 L642.1,158.8 L642.9,161.3 L643.7,163.7 L644.5,164.7 L645.4,164.0 L646.4,162.1 L647.4,160.2 L648.3,159.4 L649.3,160.1 L650.3,161.8 L651.2,163.5 L652.2,164.2 L653.1,163.6 L653.9,162.1 L654.8,160.7 L655.6,160.1 L656.3,160.4 L656.9,161.2 L657.6,162.0 L658.2,162.4 L658.9,161.9 L659.7,160.7 L660.4,159.5 L661.1,159.1 L662.2,160.1 L663.3,162.7 L664.4,165.3 L665.5,166.3 L666.2,164.9 L667.0,161.5 L667.8,158.2 L668.6,156.8 L669.4,157.8 L670.3,160.3 L671.2,162.8 L672.0,163.8 L672.7,163.2 L673.3,161.9 L674.0,160.5 L674.7,159.9 L675.8,160.5 L676.8,162.1 L677.9,163.6 L679.0,164.2 L679.9,163.4 L680.9,161.5 L681.9,159.6 L682.9,158.8 L683.7,159.4 L684.6,160.9 L685.5,162.3 L686.3,162.9 L687.4,162.2 L688.5,160.3 L689.6,158.5 L690.6,157.7 L691.3,158.5 L691.9,160.2 L692.6,161.9 L693.3,162.7 L694.3,161.6 L695.3,159.2 L696.4,156.7 L697.4,155.7 L698.4,157.0 L699.4,160.0 L700.4,163.1 L701.3,164.4 L702.2,163.7 L703.1,161.9 L703.9,160.2 L704.8,159.5 L705.7,160.3 L706.7,162.2 L707.7,164.1 L708.7,164.9 L709.8,164.2 L710.9,162.5 L712.0,160.8 L713.1,160.1" stroke="#00ee00"/>
<path d="M439.1,300.0 L441.2,272.0 L443.2,243.5 L445.2,221.1 L447.3,200.8 L449.3,186.6 L451.3,174.4 L453.4,164.2 L455.4,158.1 L456.4,156.2 L458.5,152.1 L460.5,150.1 L462.1,148.5 L463.5,150.1 L465.6,152.1 L467.0,154.1 L468.6,158.2 L470.2,160.2 L471.7,158.2 L473.1,154.1 L474.7,150.1 L476.3,148.0 L477.8,152.1 L479.2,158.2 L480.8,162.3 L482.8,172.4 L484.9,175.4 L486.9,177.4 L488.9,178.5 L491.0,180.5 L493.0,179.5 L495.0,178.5 L497.1,179.5 L499.1,182.5 L501.1,184.6 L503.2,185.6 L505.2,187.6 L507.2,188.6 L509.3,190.7 L511.3,188.6 L513.3,183.5 L515.4,178.5 L517.4,176.4 L519.4,179.5 L521.5,182.5 L523.1,181.5 L524.5,174.4 L525.9,162.2 L527.6,154.1 L529.6,146.0 L531.6,144.0 L533.7,142.0 L535.7,144.0 L537.7,143.0 L539.8,139.9 L541.8,133.8 L543.8,127.7 L545.9,121.6 L547.9,118.6 L549.9,117.6 L552.0,121.6 L554.0,129.8 L556.0,137.9 L558.0,146.0 L560.1,152.1 L562.1,158.2 L564.1,162.3 L565.0,161.7 L565.9,160.2 L566.8,158.8 L567.6,158.2 L568.8,159.1 L569.9,161.3 L571.0,163.6 L572.1,164.5 L573.2,163.4 L574.2,160.9 L575.3,158.4 L576.4,157.3 L577.1,158.2 L577.8,160.4 L578.6,162.5 L579.3,163.4 L580.3,162.8 L581.2,161.2 L582.2,159.7 L583.1,159.0 L583.9,159.7 L584.8,161.2 L585.6,162.7 L586.4,163.4 L587.2,162.7 L588.0,161.2 L588.8,159.7 L589.6,159.1 L590.5,160.0 L591.4,162.3 L592.4,164.6 L593.3,165.5 L594.2,164.2 L595.2,161.2 L596.1,158.1 L597.0,156.9 L598.1,157.7 L599.3,159.8 L600.4,161.8 L601.6,162.7 L602.5,162.0 L603.5,160.5 L604.4,158.9 L605.4,158.3 L606.4,159.2 L607.4,161.6 L608.4,164.0 L609.5,165.0 L610.2,163.8 L611.0,161.0 L611.8,158.1 L612.5,156.9 L613.4,157.7 L614.3,159.6 L615.2,161.4 L616.1,162.2 L616.9,161.0 L617.6,158.1 L618.4,155.2 L619.1,154.0 L619.9,155.5 L620.6,159.3 L621.4,163.0 L622.2,164.6 L623.1,163.7 L624.1,161.4 L625.0,159.2 L626.0,158.2 L626.8,158.8 L627.6,160.2 L628.4,161.6 L629.2,162.2 L630.3,161.4 L631.5,159.4 L632.6,157.5 L633.7,156.7 L634.8,157.5 L635.8,159.3 L636.9,161.2 L638.0,162.0 L638.9,161.4 L639.7,159.8 L640.6,158.3 L641.5,157.6 L642.5,158.7 L643.5,161.1 L644.5,163.6 L645.5,164.6 L646.4,163.6 L647.3,161.1 L648.2,158.6 L649.2,157.5 L650.1,158.4 L651.0,160.7 L651.9,162.9 L652.8,163.8 L653.7,162.7 L654.5,160.1 L655.4,157.5 L656.3,156.4 L657.3,157.6 L658.3,160.7 L659.3,163.7 L660.3,164.9 L661.3,163.9 L662.2,161.4 L663.1,158.9 L664.1,157.9 L665.1,158.5 L666.2,160.1 L667.3,161.6 L668.3,162.2 L669.1,161.9 L669.8,160.9 L670.6,160.0 L671.4,159.6 L672.1,159.9 L672.9,160.8 L673.6,161.6 L674.4,162.0 L675.5,161.7 L676.5,161.1 L677.6,160.4 L678.6,160.2 L679.7,161.1 L680.9,163.2 L682.0,165.3 L683.2,166.2 L684.0,165.0 L684.8,162.3 L685.7,159.5 L686.5,158.4 L687.3,159.5 L688.1,162.3 L688.8,165.0 L689.6,166.1 L690.7,164.7 L691.8,161.2 L692.9,157.8 L693.9,156.3 L694.6,157.6 L695.3,160.6 L696.1,163.6 L696.8,164.9 L697.7,164.0 L698.7,161.8 L699.6,159.6 L700.6,158.6 L701.5,159.3 L702.4,161.0 L703.3,162.7 L704.2,163.3 L705.2,162.7 L706.1,161.1 L707.1,159.4 L708.0,158.8 L708.8,159.2 L709.6,160.3 L710.4,161.4 L711.2,161.8" stroke="#000000"/>
<path d="M441.2,300.0 L442.6,284.1 L444.2,267.9 L446.3,255.7 L448.3,249.6 L450.3,245.5 L452.4,243.5 L454.4,235.4 L456.4,227.2 L458.5,220.1 L460.1,221.1 L461.5,225.2 L463.5,227.2 L465.6,235.4 L467.6,245.5 L469.6,252.6 L471.7,249.6 L473.7,239.4 L475.7,229.3 L477.8,235.4 L479.8,241.5 L481.8,243.5 L483.9,255.7 L485.9,272.0 L487.3,278.0 L488.9,267.9 L491.0,257.7 L493.0,259.8 L495.0,261.8 L497.1,267.9 L499.1,274.0 L501.1,269.9 L503.2,265.9 L505.2,266.9 L507.2,263.8 L509.3,255.7 L511.3,251.6 L513.3,261.8 L514.3,269.9 L516.4,263.8 L518.4,249.6 L519.8,251.6 L521.5,267.9 L523.1,267.9 L524.5,241.5 L525.9,215.0 L527.6,194.7 L529.6,196.7 L531.6,201.8 L533.7,205.9 L535.7,203.9 L537.7,206.9 L539.8,203.9 L541.8,194.7 L543.8,182.5 L545.9,168.3 L547.9,158.1 L549.9,154.1 L551.5,156.1 L553.0,162.2 L555.0,172.4 L557.0,182.5 L559.1,190.7 L561.1,198.8 L563.1,204.9 L565.2,211.0 L567.2,217.1 L569.2,215.0 L571.3,213.0 L573.3,215.0 L575.3,219.1 L577.4,215.0 L580.0,214.0 L582.0,209.4 L584.0,212.5 L586.0,209.4 L588.0,213.5 L590.1,209.4 L592.1,210.4 L594.1,207.4 L596.2,209.4 L598.2,205.4 L600.2,207.4 L602.3,209.4 L604.3,207.4 L606.3,205.4 L608.4,203.3 L610.4,211.5 L612.4,207.4 L614.5,205.4 L616.5,201.3 L618.5,203.3 L620.6,199.3 L622.0,197.2 L624.0,201.3 L626.1,205.4 L628.1,207.4 L630.1,203.3 L632.2,201.3 L634.2,203.3 L636.2,199.3 L638.3,197.2 L640.3,196.2 L642.3,195.2 L644.3,197.2 L646.4,196.2 L648.4,198.3 L650.4,196.2 L652.5,194.2 L654.5,193.2 L656.5,191.1 L658.6,191.1 L660.6,193.2 L662.6,195.2 L664.7,196.2 L666.7,195.2 L668.7,198.3 L670.8,195.2 L672.8,189.1 L674.8,185.0 L676.9,183.0 L678.9,187.1 L680.9,190.1 L683.0,194.2 L685.0,189.1 L687.0,185.0 L689.1,184.0 L691.1,181.0 L693.1,183.0 L695.2,189.1 L697.2,187.1 L699.2,183.0 L701.3,181.0 L703.3,185.0 L704.7,183.0" stroke="#ff0000"/>
<path d="M439.1,300.0 L441.2,272.0 L443.2,247.6 L445.2,227.2 L447.3,208.9 L449.3,196.7 L451.3,188.6 L453.4,185.6 L455.4,180.5 L457.4,174.4 L459.5,171.3 L460.9,173.4 L462.5,178.5 L464.6,184.6 L466.6,189.6 L468.6,194.7 L470.7,197.8 L472.7,196.7 L474.7,192.7 L476.7,188.6 L478.4,187.6 L479.8,192.7 L481.8,198.8 L483.9,208.9 L485.9,219.1 L487.9,227.2 L489.3,230.3 L491.0,228.3 L492.6,220.1 L494.6,217.1 L496.7,213.0 L499.1,211.0 L501.1,212.0 L503.2,210.0 L505.2,213.0 L507.2,211.0 L509.3,206.9 L511.3,202.8 L513.3,198.8 L515.4,196.7 L517.4,200.8 L519.4,199.8 L521.5,196.7 L523.5,190.7 L525.1,178.5 L526.7,166.3 L528.4,154.1 L529.6,148.0 L531.6,145.0 L533.7,146.0 L535.7,150.1 L537.7,150.1 L539.8,146.0 L541.8,137.9 L543.8,125.7 L545.9,113.5 L547.9,108.4 L549.9,107.4 L552.0,110.4 L554.0,119.6 L556.0,133.8 L558.0,144.0 L560.1,150.1 L562.1,154.1 L564.1,156.2 L566.2,158.2 L568.2,160.2 L570.2,162.3 L572.3,160.2 L575.3,161.3 L578.4,162.3 L579.2,161.7 L580.0,160.5 L580.8,159.2 L581.7,158.6 L582.6,159.6 L583.6,161.9 L584.5,164.3 L585.4,165.2 L586.2,164.1 L587.0,161.3 L587.8,158.5 L588.6,157.4 L589.3,158.2 L590.0,160.2 L590.7,162.2 L591.5,163.1 L592.5,162.5 L593.6,161.2 L594.7,159.9 L595.7,159.3 L596.5,160.3 L597.3,162.6 L598.1,164.9 L598.9,165.8 L599.8,165.0 L600.7,163.0 L601.5,161.1 L602.4,160.2 L603.1,160.5 L603.8,161.1 L604.5,161.7 L605.1,162.0 L606.3,161.4 L607.4,159.9 L608.5,158.4 L609.6,157.7 L610.6,158.5 L611.6,160.4 L612.5,162.3 L613.5,163.1 L614.5,162.5 L615.5,160.9 L616.5,159.4 L617.5,158.8 L618.4,159.2 L619.2,160.3 L620.0,161.3 L620.9,161.8 L621.6,161.5 L622.3,161.0 L623.0,160.5 L623.7,160.2 L624.4,160.5 L625.2,161.0 L625.9,161.5 L626.6,161.8 L627.4,161.4 L628.2,160.5 L628.9,159.7 L629.7,159.3 L630.7,160.3 L631.8,162.6 L632.8,164.9 L633.9,165.9 L634.7,164.8 L635.5,162.4 L636.3,159.9 L637.1,158.9 L638.0,159.7 L639.0,161.8 L639.9,163.8 L640.9,164.7 L641.9,164.0 L643.0,162.2 L644.0,160.4 L645.1,159.7 L646.1,160.0 L647.1,160.8 L648.0,161.7 L649.0,162.0 L649.8,161.3 L650.6,159.5 L651.4,157.7 L652.2,156.9 L653.0,157.6 L653.7,159.4 L654.4,161.2 L655.1,161.9 L656.0,161.5 L657.0,160.6 L657.9,159.8 L658.9,159.4 L659.9,159.8 L661.0,160.8 L662.1,161.8 L663.2,162.2 L663.9,161.6 L664.6,160.0 L665.3,158.3 L666.0,157.7 L666.8,158.4 L667.6,160.2 L668.4,162.1 L669.2,162.8 L670.2,161.5 L671.2,158.2 L672.2,155.0 L673.2,153.6 L674.0,155.1 L674.7,158.8 L675.5,162.4 L676.2,163.9 L677.1,163.2 L677.9,161.6 L678.7,160.0 L679.6,159.3 L680.6,159.9 L681.6,161.4 L682.6,162.9 L683.6,163.5 L684.7,162.9 L685.8,161.3 L686.9,159.7 L688.1,159.1 L689.2,159.6 L690.3,160.9 L691.4,162.2 L692.6,162.7 L693.6,162.0 L694.7,160.4 L695.7,158.8 L696.8,158.1 L697.8,158.8 L698.9,160.6 L700.0,162.3 L701.0,163.1 L702.0,161.9 L702.9,159.1 L703.8,156.3 L704.7,155.1 L705.7,156.3 L706.7,159.2 L707.7,162.2 L708.7,163.4 L709.4,162.5 L710.1,160.5 L710.8,158.4 L711.5,157.6" stroke="#800080"/>
<path d="M436.1,300.0 L438.1,272.0 L440.2,241.5 L442.2,217.1 L444.2,194.7 L445.4,174.4 L445.9,170.0 L447.3,150.1 L449.3,133.8 L451.3,117.6 L453.4,101.3 L455.4,87.1 L457.4,74.9 L459.5,64.7 L461.5,60.7 L463.5,55.6 L465.6,54.6 L467.6,48.5 L469.0,42.4 L470.7,36.3 L472.3,31.2 L473.7,30.2 L475.1,31.2 L476.7,29.8 L478.8,31.2 L480.8,31.8 L482.8,33.2 L484.5,32.2 L485.9,39.3 L487.9,39.9 L489.3,35.2 L491.0,31.2 L492.0,31.2 L493.4,36.3 L495.0,42.4 L497.1,50.5 L499.1,56.6 L501.1,61.7 L502.6,63.7 L504.2,59.6 L505.6,66.7 L507.2,74.9 L508.9,89.1 L510.3,91.1 L511.7,89.1 L513.3,97.2 L515.0,105.4 L516.4,113.5 L517.8,116.5 L519.4,117.6 L521.1,121.6 L522.5,127.7 L523.9,129.8 L525.5,133.8 L527.2,139.9 L528.8,144.0 L530.6,148.0 L532.6,150.1 L534.7,152.1 L536.7,154.1 L538.7,154.1 L540.8,156.2 L542.8,155.2 L544.8,158.2 L546.9,160.2 L548.9,162.3 L550.9,164.3 L553.0,166.3 L555.0,172.4 L557.0,176.4 L559.1,175.4 L561.1,173.4 L563.1,174.4 L565.2,172.4 L567.2,176.4 L569.2,175.4 L571.3,176.4 L573.3,174.4 L575.3,172.4 L577.4,170.3 L580.3,170.8 L584.4,168.8 L588.5,166.7 L592.5,165.7 L596.6,164.7 L597.4,164.2 L598.3,163.0 L599.1,161.8 L600.0,161.3 L601.0,162.2 L602.1,164.5 L603.1,166.7 L604.2,167.7 L605.2,166.4 L606.2,163.2 L607.2,160.0 L608.2,158.7 L609.0,160.1 L609.8,163.6 L610.6,167.0 L611.3,168.5 L612.4,167.3 L613.5,164.6 L614.5,161.8 L615.6,160.7 L616.5,161.7 L617.4,164.0 L618.3,166.4 L619.2,167.3 L620.2,166.2 L621.1,163.3 L622.1,160.5 L623.0,159.3 L623.8,160.0 L624.6,161.8 L625.4,163.5 L626.2,164.2 L627.0,163.8 L627.8,162.8 L628.5,161.8 L629.3,161.4 L630.1,162.0 L631.0,163.4 L631.8,164.8 L632.6,165.4 L633.4,164.8 L634.1,163.5 L634.8,162.2 L635.5,161.7 L636.2,161.9 L636.8,162.5 L637.5,163.2 L638.1,163.4 L638.9,163.1 L639.7,162.4 L640.5,161.7 L641.3,161.4 L642.2,161.8 L643.0,162.7 L643.9,163.6 L644.7,163.9 L645.5,163.4 L646.3,162.3 L647.1,161.1 L647.8,160.6 L648.9,161.3 L649.9,163.0 L651.0,164.6 L652.0,165.3 L653.0,164.1 L653.9,161.4 L654.9,158.7 L655.9,157.5 L656.9,158.6 L657.9,161.3 L658.8,163.9 L659.8,165.0 L660.6,164.2 L661.3,162.4 L662.0,160.5 L662.7,159.7 L663.8,161.3 L664.9,165.0 L666.0,168.8 L667.1,170.3 L668.2,168.8 L669.4,165.3 L670.5,161.7 L671.6,160.2 L672.6,161.1 L673.5,163.2 L674.5,165.3 L675.4,166.2 L676.1,165.3 L676.7,163.1 L677.4,160.8 L678.0,159.9 L679.1,160.5 L680.2,162.0 L681.3,163.6 L682.3,164.2 L683.2,163.3 L684.1,161.2 L684.9,159.2 L685.8,158.3 L686.4,159.4 L687.1,162.2 L687.8,164.9 L688.5,166.0 L689.6,165.1 L690.7,163.1 L691.9,161.0 L693.0,160.2 L693.8,161.0 L694.5,162.8 L695.3,164.7 L696.0,165.5 L697.0,164.2 L697.9,161.0 L698.9,157.8 L699.8,156.5 L700.6,157.6 L701.3,160.2 L702.1,162.7 L702.9,163.8 L703.9,163.4 L704.9,162.6 L705.9,161.7 L706.9,161.4 L707.8,161.8 L708.8,162.7 L709.7,163.7 L710.6,164.0" stroke="#0000ff"/>
<path d="M440.2,300.0 L442.2,272.0 L444.2,245.5 L446.3,227.2 L448.3,211.0 L450.3,194.7 L452.4,180.5 L454.0,172.4 L455.4,168.3 L457.4,166.3 L459.5,168.3 L461.5,166.3 L463.5,163.2 L465.6,162.2 L467.6,164.2 L469.6,161.2 L471.7,156.1 L473.1,154.1 L474.7,153.0 L476.7,156.1 L478.8,162.2 L480.4,170.3 L481.8,180.5 L483.3,190.7 L484.9,198.8 L486.9,204.9 L488.9,202.8 L490.6,196.7 L492.0,190.7 L494.0,188.6 L496.1,192.7 L498.1,192.7 L500.1,194.7 L502.2,202.8 L504.2,204.9 L506.2,200.8 L508.3,196.7 L510.3,200.8 L512.3,196.7 L514.3,190.7 L516.4,185.6 L518.4,183.5 L520.4,186.6 L522.5,190.7 L523.9,182.5 L525.5,170.3 L527.2,158.1 L527.6,131.8 L529.6,125.7 L531.2,124.7 L532.6,129.8 L534.1,135.9 L535.7,137.9 L537.7,138.9 L539.8,136.9 L541.8,129.8 L543.8,117.6 L545.9,105.4 L547.9,99.3 L549.9,101.3 L552.0,103.3 L554.0,111.5 L556.0,125.7 L558.0,137.9 L560.1,148.0 L562.1,156.2 L564.1,158.2 L566.2,160.2 L568.2,162.3 L569.3,161.2 L570.4,158.8 L571.5,156.3 L572.5,155.3 L573.4,156.5 L574.3,159.6 L575.2,162.6 L576.0,163.9 L576.7,162.7 L577.4,160.0 L578.0,157.2 L578.7,156.1 L579.8,157.0 L580.9,159.1 L582.0,161.2 L583.1,162.1 L584.0,161.4 L584.9,159.7 L585.8,158.0 L586.8,157.3 L587.7,158.0 L588.7,159.6 L589.6,161.2 L590.6,161.9 L591.7,161.0 L592.8,159.0 L593.9,156.9 L595.0,156.1 L595.9,157.2 L596.8,159.9 L597.8,162.6 L598.7,163.7 L599.5,163.1 L600.4,161.5 L601.3,159.9 L602.1,159.3 L603.0,159.7 L604.0,160.5 L604.9,161.4 L605.8,161.8 L606.6,161.1 L607.4,159.4 L608.1,157.8 L608.9,157.1 L610.1,158.0 L611.2,160.2 L612.3,162.3 L613.5,163.2 L614.3,162.5 L615.0,160.7 L615.8,158.9 L616.6,158.1 L617.7,158.8 L618.8,160.5 L619.8,162.1 L620.9,162.8 L621.9,162.2 L622.9,160.7 L624.0,159.2 L625.0,158.5 L625.7,159.0 L626.4,160.3 L627.0,161.5 L627.7,162.0 L628.8,161.5 L629.8,160.3 L630.9,159.1 L632.0,158.6 L633.0,159.2 L634.0,160.6 L635.0,162.0 L636.0,162.5 L637.0,162.1 L637.9,161.2 L638.9,160.3 L639.9,159.9 L641.0,160.4 L642.2,161.6 L643.3,162.8 L644.4,163.3 L645.5,162.8 L646.5,161.7 L647.5,160.5 L648.5,160.0 L649.6,160.5 L650.7,161.7 L651.9,162.9 L653.0,163.4 L653.7,162.9 L654.5,161.6 L655.2,160.3 L655.9,159.7 L657.0,160.4 L658.2,161.8 L659.3,163.3 L660.4,163.9 L661.2,162.7 L662.0,159.7 L662.9,156.7 L663.7,155.5 L664.8,156.6 L665.8,159.3 L666.9,161.9 L668.0,163.0 L669.1,162.4 L670.3,161.0 L671.4,159.6 L672.5,159.0 L673.3,159.6 L674.1,161.1 L674.8,162.6 L675.6,163.2 L676.7,162.4 L677.7,160.5 L678.8,158.7 L679.8,157.9 L681.0,159.5 L682.1,163.3 L683.2,167.1 L684.3,168.7 L685.4,167.0 L686.4,163.0 L687.4,159.1 L688.4,157.4 L689.4,158.5 L690.3,161.0 L691.3,163.6 L692.3,164.6 L693.1,163.8 L694.0,161.9 L694.8,159.9 L695.6,159.1 L696.6,159.7 L697.5,161.3 L698.4,162.9 L699.3,163.6 L700.2,162.8 L701.1,161.0 L702.1,159.2 L703.0,158.5 L703.9,159.2 L704.8,160.9 L705.7,162.5 L706.5,163.2 L707.4,162.7 L708.2,161.3 L709.0,160.0 L709.8,159.4" stroke="#ff00ff"/>
</g>
<clipPath id="clipC"><rect x="77.75" y="378.80" width="294.00" height="294.50"/></clipPath>
<g clip-path="url(#clipC)" fill="none" stroke-width="1.5" stroke-linejoin="round" stroke-dasharray="13 5">
<path d="M108.5,677.1 L110.1,649.3 L111.9,622.9 L113.8,601.7 L115.9,580.5 L118.0,559.4 L119.8,540.8 L121.7,519.7 L123.8,501.2 L124.4,503.8 L126.0,493.7 L127.4,491.6 L128.9,497.7 L130.5,503.8 L132.1,495.7 L133.5,489.6 L135.0,487.6 L136.6,483.5 L138.2,485.5 L139.6,479.4 L141.7,483.5 L143.1,475.4 L144.7,467.2 L146.3,471.3 L147.8,479.4 L149.2,487.6 L150.8,493.7 L152.4,499.8 L153.9,503.8 L155.3,507.9 L156.9,512.0 L158.5,520.1 L160.0,526.2 L161.4,522.1 L163.0,514.0 L164.6,509.9 L166.1,516.0 L167.5,524.1 L169.1,532.3 L170.7,528.2 L172.2,520.1 L173.6,514.0 L175.2,509.9 L176.8,514.0 L178.3,520.1 L179.7,514.0 L181.3,516.0 L182.9,520.1 L184.3,512.0 L185.8,503.8 L187.0,495.7 L188.4,497.7 L189.8,499.8 L191.5,503.8 L193.1,495.7 L194.5,481.5 L195.9,475.4 L197.6,473.3 L199.6,467.2 L201.6,465.2 L203.7,463.2 L205.7,459.1 L207.7,451.0 L209.8,442.8 L211.4,434.7 L212.8,428.6 L214.2,425.6 L215.9,426.6 L217.5,430.7 L218.9,438.8 L220.3,446.9 L222.0,457.1 L223.6,467.2 L225.0,475.4 L227.0,483.5 L229.1,493.7 L231.1,503.8 L233.1,509.9 L235.2,512.0 L237.2,514.0 L239.2,518.0 L241.3,522.1 L243.3,524.1 L245.3,528.2 L247.4,532.3 L249.6,525.3 L252.0,519.4 L254.5,515.1 L256.9,504.2 L260.0,514.2 L263.1,508.9 L265.9,508.8 L268.1,507.7 L270.7,511.3 L273.7,510.0 L276.9,508.2 L279.6,500.8 L282.8,511.0 L285.9,506.4 L288.9,509.0 L291.4,504.4 L294.3,511.5 L297.4,504.8 L299.7,513.8 L302.6,502.5 L305.6,509.8 L308.5,503.6 L311.5,511.7 L314.7,507.2 L317.6,507.5 L320.0,504.5 L322.3,512.1 L325.0,498.1 L327.9,512.7 L330.7,513.2 L332.9,503.7 L335.3,516.1 L337.6,507.6 L340.6,506.5 L343.0,511.8 L345.8,509.9 L348.2,509.6 L351.0,508.4 L353.6,511.6 L356.1,498.4 L358.9,499.7 L361.6,510.3 L364.6,504.0 L367.2,505.9 L369.7,512.9 L372.8,507.0 L375.6,507.1" stroke="#c0c0c0"/>
<path d="M107.9,677.1 L109.3,649.3 L111.1,622.9 L113.2,601.7 L115.3,580.5 L117.5,562.0 L119.8,543.5 L121.7,530.3 L122.4,530.2 L123.4,524.1 L124.4,516.0 L126.0,520.1 L127.4,530.2 L128.9,524.1 L130.5,514.0 L132.1,507.9 L133.5,503.8 L135.0,507.9 L136.6,516.0 L138.2,507.9 L139.6,503.8 L141.1,493.7 L142.7,487.6 L144.3,489.6 L145.7,487.6 L147.2,491.6 L148.8,489.6 L150.4,495.7 L151.8,487.6 L153.3,497.7 L154.5,503.8 L155.9,501.8 L157.3,507.9 L158.9,499.8 L160.6,495.7 L162.0,493.7 L163.4,497.7 L165.0,491.6 L166.7,489.6 L168.1,487.6 L169.5,483.5 L171.1,475.4 L172.8,485.5 L174.2,495.7 L175.6,507.9 L176.8,516.0 L178.3,499.8 L179.3,477.4 L180.3,469.3 L181.7,473.3 L183.3,479.4 L185.0,487.6 L186.4,491.6 L187.8,481.5 L189.4,471.3 L191.1,481.5 L192.5,489.6 L193.9,487.6 L195.5,479.4 L197.2,475.4 L198.6,479.4 L200.0,487.6 L201.6,495.7 L203.3,491.6 L204.7,483.5 L206.1,477.4 L207.7,469.3 L209.3,463.2 L210.8,457.1 L212.2,455.0 L213.8,453.0 L215.4,448.9 L216.9,444.9 L218.3,446.9 L219.9,451.0 L221.5,459.1 L223.0,469.3 L224.4,475.4 L226.0,479.4 L227.6,485.5 L229.1,491.6 L231.1,499.8 L233.1,503.8 L235.2,507.9 L237.2,509.9 L239.2,505.9 L241.3,503.8 L243.3,499.8 L245.3,485.5 L247.4,491.6 L249.9,496.8 L253.0,498.9 L256.2,499.5 L259.3,517.0 L261.8,510.6 L265.0,505.3 L267.4,511.1 L269.7,521.5 L272.3,502.9 L275.4,509.4 L278.3,495.9 L281.0,497.5 L283.9,497.1 L286.4,508.1 L289.3,511.7 L291.8,514.4 L294.2,514.7 L297.0,502.5 L299.7,506.2 L302.8,502.6 L305.3,514.9 L308.2,507.0 L310.7,506.6 L313.7,513.3 L316.4,507.5 L319.3,505.0 L322.1,501.6 L324.8,507.0 L327.7,508.8 L330.8,512.5 L333.8,504.8 L336.2,508.7 L338.7,510.9 L341.3,507.4 L343.7,508.2 L346.3,508.5 L349.1,499.6 L352.2,512.2 L355.3,500.7 L357.8,509.0 L360.8,506.7 L363.3,499.7 L365.5,514.5 L368.3,510.5 L370.7,515.6 L373.4,510.2 L375.7,505.9" stroke="#ff00ff"/>
<path d="M108.7,677.1 L110.6,649.3 L112.7,622.9 L114.6,604.3 L116.4,588.5 L118.5,572.6 L120.6,559.4 L123.3,551.4 L125.1,546.1 L126.8,546.4 L128.5,556.6 L130.1,566.7 L131.5,572.8 L132.9,568.8 L134.6,574.9 L136.2,581.0 L137.6,576.9 L139.0,572.8 L140.7,566.7 L142.3,560.7 L143.7,556.6 L145.1,560.7 L146.3,562.7 L147.8,568.8 L149.2,574.9 L150.8,578.9 L152.4,581.0 L153.9,585.0 L155.3,593.2 L156.9,585.0 L158.5,576.9 L160.0,574.9 L161.4,581.0 L163.0,587.1 L164.6,578.9 L166.1,568.8 L167.5,564.7 L169.1,562.7 L170.7,570.8 L172.2,581.0 L173.6,585.0 L175.2,587.1 L176.8,578.9 L178.3,566.7 L179.7,558.6 L181.3,554.6 L182.9,548.5 L184.3,540.3 L185.8,532.2 L187.4,528.1 L189.0,530.2 L190.4,528.1 L191.9,530.2 L193.5,529.1 L195.5,503.8 L197.2,493.7 L198.6,487.6 L200.6,479.4 L202.6,467.2 L204.1,457.1 L205.3,463.2 L206.7,471.3 L208.1,477.4 L209.8,467.2 L211.4,457.1 L212.8,446.9 L214.2,440.8 L215.9,440.8 L217.5,439.8 L218.9,444.9 L220.3,448.9 L222.0,453.0 L224.0,457.1 L226.0,465.2 L228.0,475.4 L230.1,485.5 L232.1,495.7 L234.1,501.8 L236.2,493.7 L238.2,499.8 L240.2,503.8 L242.3,505.9 L244.3,507.9 L246.3,509.9 L248.6,510.9 L251.1,506.7 L254.1,506.0 L257.3,506.6 L260.5,516.3 L263.2,501.5 L265.5,505.6 L268.6,504.5 L271.3,507.8 L273.7,512.0 L276.1,512.7 L279.1,499.4 L282.1,505.0 L284.5,499.9 L287.4,501.4 L290.3,513.8 L292.7,506.4 L295.7,495.8 L298.0,516.8 L300.5,507.1 L302.9,506.4 L306.0,511.6 L309.2,500.2 L312.3,502.6 L315.0,510.9 L317.3,502.3 L320.2,497.8 L323.4,511.0 L325.9,508.7 L329.0,506.5 L331.4,507.7 L333.9,508.8 L336.7,496.8 L339.2,505.5 L342.3,507.7 L345.0,506.5 L347.5,505.5 L350.4,502.8 L353.4,512.5 L355.9,504.9 L358.3,511.7 L360.8,512.7 L363.3,503.2 L365.7,511.1 L368.2,505.4 L370.6,509.0 L373.1,509.0 L375.5,502.9" stroke="#000000"/>
<path d="M110.1,677.1 L111.9,649.3 L113.8,628.1 L115.9,607.0 L117.7,591.1 L119.8,577.9 L122.5,567.3 L124.3,563.3 L126.0,560.7 L127.4,564.7 L128.9,570.8 L130.5,574.9 L132.1,576.9 L133.5,581.0 L135.0,587.1 L136.6,593.2 L138.2,597.2 L139.6,601.3 L141.1,593.2 L142.7,587.1 L144.3,585.0 L145.7,585.0 L147.2,587.1 L148.8,589.1 L150.4,601.3 L151.8,617.6 L153.3,633.8 L154.5,644.0 L155.9,650.1 L157.3,658.2 L158.5,662.3 L160.0,652.1 L161.4,637.9 L163.0,621.6 L164.6,609.4 L166.1,605.4 L167.5,609.4 L169.1,615.5 L170.7,623.7 L172.2,633.8 L173.6,637.9 L175.2,625.7 L176.8,605.4 L178.3,581.0 L179.7,578.9 L181.3,587.1 L182.9,581.0 L184.3,572.8 L185.8,564.7 L187.4,570.8 L189.0,581.0 L190.4,583.0 L191.9,576.9 L193.1,560.7 L194.5,540.3 L196.5,512.0 L198.0,503.8 L199.6,497.7 L201.6,493.7 L203.7,489.6 L205.7,485.5 L207.7,479.4 L209.8,471.3 L211.4,455.0 L212.8,430.7 L214.2,414.4 L215.9,405.2 L217.5,406.3 L218.9,414.4 L220.3,426.6 L222.0,442.8 L223.6,457.1 L225.0,467.2 L227.0,477.4 L229.1,487.6 L231.1,497.7 L233.1,507.9 L235.2,514.0 L237.2,520.1 L239.2,526.2 L241.3,529.2 L243.3,524.1 L245.3,520.1 L247.4,516.0 L249.8,515.9 L252.1,509.7 L255.3,505.4 L258.4,511.0 L261.5,509.6 L264.5,502.1 L266.8,506.3 L269.7,518.2 L272.3,503.2 L274.9,510.7 L277.3,515.1 L279.8,512.6 L282.7,509.9 L285.3,507.5 L288.5,509.3 L290.8,510.2 L293.9,507.0 L296.8,516.5 L299.9,508.5 L302.9,517.3 L305.9,508.4 L308.3,512.8 L311.1,510.2 L314.2,503.8 L316.9,508.3 L319.8,514.6 L322.0,509.7 L325.2,507.4 L328.1,510.6 L330.7,508.4 L333.4,505.1 L335.8,510.6 L338.9,509.6 L341.9,512.0 L344.1,509.0 L346.6,507.9 L349.5,508.9 L352.6,518.8 L355.4,513.7 L358.2,501.0 L361.4,521.0 L363.8,497.9 L366.8,515.7 L369.9,516.8 L372.2,511.0 L375.0,512.3" stroke="#008000"/>
<path d="M109.5,677.1 L111.1,649.3 L113.2,622.9 L115.1,607.0 L116.9,591.1 L119.0,575.2 L121.2,564.7 L123.3,556.7 L124.8,554.6 L126.4,558.6 L128.0,560.7 L129.5,566.7 L130.9,570.8 L132.5,574.9 L134.1,583.0 L135.6,595.2 L137.0,587.1 L138.6,578.9 L140.2,566.7 L141.7,556.6 L143.1,558.6 L144.3,566.7 L145.7,572.8 L147.2,576.9 L148.8,585.0 L150.4,597.2 L151.2,611.5 L152.0,625.7 L152.8,639.9 L153.9,644.0 L155.3,633.8 L156.9,621.6 L158.5,613.5 L160.0,621.6 L161.4,609.4 L163.0,597.2 L164.6,585.0 L166.1,581.0 L167.5,597.2 L169.1,609.4 L170.7,617.6 L172.2,615.5 L173.6,605.4 L175.2,593.2 L176.8,576.9 L178.3,550.5 L179.7,542.4 L181.3,546.4 L182.9,556.6 L184.3,554.6 L185.8,550.5 L187.4,552.5 L189.0,540.3 L190.4,532.2 L191.9,524.1 L192.5,503.8 L194.5,495.7 L196.5,489.6 L198.6,483.5 L200.6,475.4 L202.6,469.3 L204.7,467.2 L206.7,469.3 L208.7,463.2 L210.8,442.8 L212.2,420.5 L213.4,402.2 L214.8,394.5 L216.3,396.1 L217.9,398.1 L219.5,410.3 L220.9,426.6 L222.4,442.8 L224.0,457.1 L225.6,469.3 L227.0,477.4 L228.5,485.5 L230.1,493.7 L231.7,501.8 L233.1,507.9 L234.6,512.0 L235.8,516.0 L237.2,520.1 L238.6,518.0 L240.2,516.0 L241.9,520.1 L243.3,522.1 L244.7,520.1 L246.3,516.0 L248.4,518.0 L251.5,519.4 L254.4,514.7 L257.4,515.3 L259.8,510.7 L262.3,502.8 L264.7,510.0 L267.0,502.0 L269.8,507.2 L272.9,518.4 L275.4,515.8 L278.0,511.9 L280.2,504.5 L283.3,510.6 L285.8,502.1 L288.5,519.9 L291.1,517.4 L293.9,507.3 L296.3,511.9 L299.4,511.1 L302.6,513.7 L305.5,508.1 L308.6,510.4 L311.5,508.1 L314.2,516.3 L317.0,514.2 L319.7,516.1 L322.4,505.2 L325.4,518.3 L327.7,517.5 L330.3,512.0 L333.1,511.8 L336.3,507.7 L339.2,505.2 L341.6,516.1 L344.2,512.0 L346.5,506.3 L349.7,509.0 L352.2,508.5 L355.3,514.6 L358.1,508.5 L360.4,514.7 L363.5,518.5 L366.5,510.7 L369.2,500.3 L372.2,514.2 L374.9,513.5" stroke="#000080"/>
</g>
<clipPath id="clipD"><rect x="416.40" y="378.50" width="293.90" height="294.20"/></clipPath>
<g clip-path="url(#clipD)" fill="none" stroke-width="1.5" stroke-linejoin="round">
<path d="M447.2,675.0 L448.8,647.0 L450.2,616.5 L451.7,586.0 L453.3,565.7 L455.3,549.4 L457.0,535.2 L461.0,461.0 L462.4,436.6 L464.5,429.5 L465.9,428.5 L467.5,432.5 L469.1,440.7 L470.6,445.7 L472.0,442.7 L473.6,436.6 L475.2,430.5 L476.7,425.4 L478.1,432.5 L479.7,426.4 L481.3,424.4 L482.8,412.2 L484.2,405.1 L485.4,406.1 L486.8,416.3 L487.8,432.5 L488.9,452.8 L489.9,475.2 L491.1,483.3 L492.3,473.2 L493.9,467.1 L495.6,466.1 L497.0,469.1 L498.4,477.2 L500.0,489.4 L501.7,501.6 L503.1,513.8 L504.5,522.0 L506.1,526.0 L507.8,530.1 L509.2,534.1 L510.6,538.2 L512.2,542.3 L513.9,540.2 L515.3,542.3 L516.7,546.3 L518.3,550.0 L520.4,549.4 L522.4,557.5 L524.4,569.7 L526.1,571.7 L527.5,563.6 L528.9,553.5 L530.5,543.3 L532.6,537.2 L534.6,533.1 L536.6,531.1 L538.7,529.1 L540.7,527.0 L544.8,540.2 L548.8,532.1 L551.9,513.8 L554.9,501.6 L557.0,497.6 L559.0,505.7 L561.0,517.9 L562.6,532.1 L564.1,546.3 L565.1,549.4 L567.1,565.7 L570.2,573.8 L573.2,569.7 L577.3,567.7 L581.3,571.7 L582.5,568.4 L583.6,560.2 L584.7,552.1 L585.9,548.7 L586.6,549.7 L587.4,552.1 L588.1,554.5 L588.8,555.5 L589.8,554.7 L590.7,552.8 L591.6,550.9 L592.5,550.1 L593.6,551.6 L594.7,555.0 L595.9,558.5 L597.0,559.9 L597.9,558.5 L598.9,555.0 L599.9,551.6 L600.9,550.1 L601.9,550.7 L603.0,552.2 L604.1,553.6 L605.2,554.2 L606.1,553.3 L607.1,551.2 L608.0,549.0 L609.0,548.1 L609.7,549.7 L610.5,553.6 L611.2,557.4 L611.9,559.0 L612.6,557.8 L613.3,554.8 L613.9,551.9 L614.6,550.7 L615.4,551.8 L616.1,554.5 L616.8,557.2 L617.6,558.3 L618.7,556.3 L619.8,551.6 L620.9,546.8 L622.1,544.8 L622.8,546.4 L623.6,550.2 L624.4,554.1 L625.1,555.7 L626.2,554.8 L627.2,552.7 L628.3,550.6 L629.4,549.8 L630.3,550.8 L631.2,553.4 L632.1,555.9 L633.0,556.9 L633.8,556.0 L634.5,553.6 L635.3,551.3 L636.0,550.4 L637.0,551.5 L638.1,554.3 L639.1,557.0 L640.1,558.1 L641.1,555.7 L642.0,549.9 L643.0,544.1 L644.0,541.7 L645.0,543.6 L646.0,548.1 L647.0,552.7 L648.0,554.6 L649.1,554.1 L650.2,552.9 L651.3,551.7 L652.4,551.2 L653.3,552.9 L654.2,557.0 L655.0,561.1 L655.9,562.7 L656.8,560.5 L657.6,555.0 L658.5,549.5 L659.3,547.2 L660.0,548.8 L660.7,552.7 L661.4,556.6 L662.1,558.2 L663.0,557.1 L663.9,554.5 L664.7,551.8 L665.6,550.8 L666.5,551.9 L667.5,554.6 L668.5,557.2 L669.5,558.4 L670.3,557.2 L671.2,554.4 L672.0,551.6 L672.9,550.5 L674.0,551.4 L675.1,553.7 L676.2,556.0 L677.3,556.9 L678.0,555.7 L678.8,552.9 L679.5,550.0 L680.3,548.9 L681.1,550.9 L681.9,556.0 L682.8,561.0 L683.6,563.1 L684.7,560.6 L685.7,554.5 L686.8,548.4 L687.8,545.9 L688.5,548.0 L689.2,553.2 L689.9,558.4 L690.6,560.6 L691.7,559.0 L692.8,555.3 L693.9,551.6 L695.0,550.0 L695.9,551.6 L696.9,555.4 L697.8,559.2 L698.7,560.7 L699.4,558.5 L700.1,553.2 L700.7,547.8 L701.4,545.6 L702.2,547.2 L703.0,550.9 L703.8,554.6 L704.6,556.2 L705.4,555.4 L706.3,553.4 L707.2,551.4 L708.1,550.5 L709.0,551.7 L709.9,554.5 L710.9,557.4 L711.8,558.5 L712.6,557.5 L713.4,555.0 L714.2,552.6 L715.0,551.5 L716.2,552.3 L717.3,554.2 L718.4,556.0 L719.5,556.8" stroke="#c0c0c0"/>
<path d="M446.2,675.0 L447.2,657.1 L448.2,636.8 L449.2,610.4 L450.2,586.0 L451.3,561.6 L452.3,547.4 L453.3,545.3 L454.3,541.3 L455.3,533.1 L456.3,519.9 L457.8,505.7 L459.4,495.5 L461.4,493.5 L463.0,481.3 L464.5,477.2 L465.9,475.2 L467.5,469.1 L469.1,465.0 L470.6,461.0 L472.0,463.0 L473.6,465.0 L475.2,461.0 L476.7,467.1 L478.1,458.9 L479.7,450.8 L481.3,442.7 L482.8,438.6 L484.2,446.7 L485.8,463.0 L487.4,479.3 L488.9,491.5 L490.3,493.5 L491.9,505.7 L493.5,513.8 L495.0,517.9 L496.4,501.6 L497.6,491.5 L499.0,495.5 L500.4,507.7 L502.1,522.0 L503.7,530.1 L505.1,528.0 L506.5,534.1 L508.2,530.1 L509.8,522.0 L511.2,524.0 L512.6,532.1 L514.3,536.2 L515.9,526.0 L517.3,526.0 L518.7,522.0 L520.4,515.9 L522.0,517.9 L523.4,530.1 L524.4,546.3 L525.7,563.6 L526.9,570.7 L528.1,565.7 L529.5,553.5 L530.9,541.3 L532.6,533.1 L534.2,527.0 L535.6,530.1 L537.6,534.1 L539.7,530.1 L541.7,522.0 L543.7,517.9 L545.8,519.9 L547.8,513.8 L549.8,505.7 L551.9,495.5 L553.9,487.4 L555.9,484.3 L558.0,489.4 L559.4,497.6 L561.0,509.8 L563.0,522.0 L565.1,532.1 L567.1,538.2 L569.1,540.2 L571.2,542.3 L575.2,559.6 L578.3,562.6 L581.3,561.6 L585.0,560.6 L585.8,557.9 L586.6,551.4 L587.4,544.9 L588.2,542.2 L589.2,543.7 L590.2,547.3 L591.1,550.9 L592.1,552.4 L593.1,551.1 L594.2,548.2 L595.3,545.2 L596.3,544.0 L597.3,545.8 L598.3,550.0 L599.3,554.3 L600.3,556.1 L601.4,554.6 L602.5,551.2 L603.7,547.8 L604.8,546.4 L605.6,547.3 L606.3,549.6 L607.1,551.9 L607.9,552.8 L608.7,552.2 L609.5,550.8 L610.3,549.3 L611.1,548.7 L612.0,549.9 L612.8,552.8 L613.6,555.8 L614.5,557.0 L615.2,555.7 L615.9,552.6 L616.6,549.4 L617.4,548.1 L618.1,548.6 L618.9,549.7 L619.7,550.8 L620.5,551.2 L621.4,550.1 L622.2,547.2 L623.1,544.3 L624.0,543.1 L625.0,544.5 L626.1,547.8 L627.1,551.2 L628.2,552.6 L629.3,552.0 L630.4,550.5 L631.4,549.0 L632.5,548.4 L633.6,549.0 L634.6,550.5 L635.7,551.9 L636.7,552.5 L637.4,551.0 L638.0,547.3 L638.7,543.6 L639.4,542.1 L640.4,543.9 L641.4,548.4 L642.5,552.8 L643.5,554.7 L644.2,553.7 L644.9,551.4 L645.5,549.0 L646.2,548.1 L647.1,548.6 L647.9,550.0 L648.8,551.4 L649.6,551.9 L650.7,551.3 L651.7,549.6 L652.7,547.9 L653.8,547.2 L654.8,547.9 L655.8,549.5 L656.9,551.0 L657.9,551.7 L658.9,550.9 L659.9,548.9 L661.0,546.9 L662.0,546.1 L662.9,546.9 L663.9,548.7 L664.9,550.6 L665.9,551.4 L666.9,550.7 L667.9,549.3 L668.9,547.8 L669.9,547.2 L670.8,548.4 L671.7,551.4 L672.6,554.4 L673.5,555.6 L674.3,554.1 L675.1,550.6 L675.8,547.1 L676.6,545.7 L677.3,546.4 L678.1,548.4 L678.8,550.3 L679.6,551.1 L680.6,549.9 L681.6,547.0 L682.6,544.1 L683.7,542.9 L684.6,544.3 L685.5,547.8 L686.4,551.2 L687.3,552.6 L688.3,552.0 L689.3,550.4 L690.3,548.8 L691.2,548.1 L692.2,548.6 L693.2,549.7 L694.2,550.8 L695.2,551.2 L696.0,550.0 L696.9,547.0 L697.8,544.0 L698.6,542.7 L699.6,544.5 L700.6,548.8 L701.5,553.1 L702.5,554.9 L703.4,554.0 L704.2,551.8 L705.1,549.5 L705.9,548.6 L707.0,549.2 L708.1,550.5 L709.2,551.8 L710.3,552.4 L711.2,551.7 L712.0,550.3 L712.9,548.8 L713.8,548.2 L714.6,549.0 L715.5,551.1 L716.3,553.2 L717.2,554.1" stroke="#ff00ff"/>
<path d="M448.8,675.0 L450.2,655.1 L451.7,634.8 L453.3,618.5 L454.9,606.3 L456.3,592.1 L457.8,577.8 L459.4,565.7 L461.0,553.5 L462.4,543.3 L463.9,528.0 L465.5,522.0 L467.1,517.9 L468.5,519.9 L470.0,526.0 L471.6,532.1 L473.2,534.1 L474.6,530.1 L476.1,526.0 L477.7,522.0 L479.3,517.9 L480.7,511.8 L482.2,509.8 L483.8,513.8 L485.4,513.8 L486.8,517.9 L488.3,522.0 L489.9,530.1 L491.5,542.3 L492.9,565.7 L493.9,586.0 L495.0,598.2 L496.0,602.2 L497.6,603.3 L499.0,592.1 L500.4,579.9 L501.7,571.7 L502.9,577.8 L504.1,590.0 L505.7,602.2 L507.2,610.4 L508.6,606.3 L510.2,598.2 L511.8,588.0 L513.3,579.9 L514.7,586.0 L516.3,596.1 L517.9,602.2 L519.3,608.3 L520.8,604.3 L522.4,598.2 L524.0,592.1 L525.4,588.0 L526.9,590.0 L528.5,581.9 L530.1,565.7 L531.5,549.4 L533.0,537.2 L534.6,513.8 L536.6,509.8 L538.7,515.9 L540.7,522.0 L542.3,513.8 L543.7,509.8 L545.8,522.0 L547.8,507.7 L549.4,481.3 L550.9,456.9 L552.5,444.7 L554.1,440.7 L555.9,438.6 L557.6,442.7 L559.0,454.9 L560.6,471.1 L562.2,489.4 L563.9,503.7 L565.5,517.9 L567.1,526.0 L569.1,532.1 L571.2,542.3 L575.2,563.6 L578.3,567.7 L580.3,569.7 L582.4,565.7 L585.0,563.6 L586.1,561.1 L587.2,555.0 L588.3,548.8 L589.5,546.3 L590.1,547.3 L590.8,549.7 L591.5,552.2 L592.1,553.2 L593.1,551.7 L594.1,548.0 L595.2,544.4 L596.2,542.9 L597.0,545.5 L597.9,551.7 L598.7,558.0 L599.5,560.5 L600.2,558.2 L600.9,552.7 L601.6,547.1 L602.3,544.8 L603.1,546.4 L603.8,550.3 L604.6,554.2 L605.4,555.8 L606.5,553.9 L607.6,549.3 L608.6,544.7 L609.7,542.7 L610.5,544.2 L611.4,547.8 L612.3,551.4 L613.2,552.9 L614.2,551.5 L615.2,548.0 L616.3,544.5 L617.3,543.1 L618.4,545.3 L619.5,550.6 L620.6,555.9 L621.7,558.2 L622.8,556.7 L624.0,553.3 L625.1,549.9 L626.3,548.5 L627.2,550.2 L628.2,554.2 L629.2,558.3 L630.2,560.0 L631.2,558.0 L632.2,553.4 L633.2,548.7 L634.3,546.8 L635.2,549.3 L636.2,555.5 L637.2,561.6 L638.1,564.2 L638.8,560.7 L639.5,552.4 L640.1,544.1 L640.8,540.7 L641.6,542.6 L642.5,547.3 L643.3,551.9 L644.1,553.8 L644.9,553.1 L645.8,551.3 L646.6,549.5 L647.5,548.8 L648.5,550.3 L649.6,554.0 L650.7,557.7 L651.8,559.3 L652.6,557.3 L653.5,552.4 L654.4,547.5 L655.3,545.4 L656.4,547.2 L657.4,551.4 L658.5,555.6 L659.6,557.4 L660.7,555.2 L661.8,549.9 L662.9,544.6 L664.0,542.4 L664.8,543.9 L665.6,547.6 L666.4,551.3 L667.2,552.8 L668.2,552.1 L669.3,550.5 L670.4,548.9 L671.4,548.2 L672.2,549.3 L672.9,551.9 L673.6,554.5 L674.4,555.6 L675.2,554.5 L676.1,552.0 L677.0,549.5 L677.8,548.5 L678.9,549.9 L679.9,553.5 L681.0,557.1 L682.0,558.6 L683.1,556.0 L684.1,549.7 L685.1,543.4 L686.1,540.8 L687.0,543.3 L687.8,549.3 L688.7,555.3 L689.6,557.8 L690.7,556.0 L691.8,551.7 L692.9,547.4 L694.0,545.7 L694.8,546.7 L695.6,549.3 L696.4,551.8 L697.2,552.9 L698.2,551.7 L699.2,548.8 L700.2,546.0 L701.2,544.8 L702.3,546.4 L703.3,550.2 L704.4,554.0 L705.5,555.6 L706.7,553.8 L707.8,549.4 L709.0,544.9 L710.1,543.1 L710.7,545.6 L711.4,551.5 L712.1,557.5 L712.7,559.9 L713.8,557.7 L714.9,552.2 L716.0,546.8 L717.1,544.6" stroke="#008000"/>
<path d="M447.6,675.0 L449.2,647.0 L450.9,616.5 L452.3,592.1 L453.7,581.9 L455.3,575.8 L457.0,571.7 L458.4,561.6 L459.4,545.3 L461.0,530.1 L462.4,513.8 L463.9,501.6 L465.5,499.6 L467.1,501.6 L468.5,505.7 L470.0,511.8 L471.6,509.8 L473.2,513.8 L474.6,522.0 L476.1,526.0 L477.7,530.1 L479.3,526.0 L480.7,524.0 L482.2,530.1 L483.8,538.2 L485.4,544.3 L487.8,551.4 L489.5,563.6 L490.9,577.8 L492.3,594.1 L493.9,610.4 L495.6,622.6 L497.0,626.6 L498.4,620.5 L500.0,602.2 L501.1,586.0 L502.1,583.9 L503.3,592.1 L504.5,606.3 L505.7,630.7 L507.2,641.9 L508.6,642.9 L509.8,630.7 L511.2,620.5 L512.6,612.4 L514.3,608.3 L515.9,604.3 L517.3,610.4 L518.7,622.6 L520.4,620.5 L522.0,612.4 L523.6,602.2 L524.8,594.1 L526.5,598.2 L528.1,610.4 L529.5,616.5 L530.5,602.2 L531.7,575.8 L533.0,553.5 L534.2,537.2 L536.6,538.2 L538.7,534.1 L540.7,522.0 L542.7,513.8 L544.8,522.0 L546.8,513.8 L548.8,493.5 L550.4,471.1 L551.9,446.7 L553.3,432.5 L554.9,426.4 L556.3,434.6 L558.0,450.8 L559.4,469.1 L561.0,485.4 L562.6,499.6 L564.3,511.8 L566.1,519.9 L568.1,526.0 L570.2,532.1 L572.2,542.3 L575.2,559.6 L578.3,563.6 L581.3,560.6 L585.0,558.5 L585.9,556.9 L586.8,552.9 L587.6,548.8 L588.5,547.2 L589.3,549.0 L590.1,553.5 L590.9,558.0 L591.7,559.9 L592.8,557.7 L593.8,552.6 L594.9,547.5 L595.9,545.4 L597.0,548.6 L598.1,556.4 L599.2,564.2 L600.2,567.5 L601.1,564.3 L602.0,556.8 L603.0,549.2 L603.9,546.0 L604.8,546.9 L605.8,549.2 L606.7,551.4 L607.6,552.3 L608.3,551.8 L609.0,550.5 L609.6,549.3 L610.3,548.7 L611.2,549.9 L612.1,552.7 L613.1,555.4 L614.0,556.6 L615.1,555.4 L616.2,552.5 L617.3,549.6 L618.4,548.4 L619.3,550.5 L620.2,555.5 L621.2,560.5 L622.1,562.6 L623.0,560.4 L623.9,555.2 L624.7,549.9 L625.6,547.8 L626.7,548.8 L627.7,551.2 L628.8,553.6 L629.8,554.6 L630.6,553.1 L631.3,549.6 L632.0,546.0 L632.7,544.5 L633.7,546.1 L634.8,549.8 L635.8,553.6 L636.8,555.2 L637.9,553.8 L639.1,550.3 L640.2,546.9 L641.3,545.5 L642.2,546.7 L643.1,549.7 L644.0,552.7 L644.9,554.0 L645.7,552.9 L646.4,550.2 L647.2,547.5 L647.9,546.4 L649.0,547.4 L650.1,549.8 L651.2,552.2 L652.2,553.2 L653.2,552.3 L654.1,550.2 L655.1,548.0 L656.0,547.1 L657.1,548.0 L658.2,550.0 L659.3,552.1 L660.4,553.0 L661.3,551.2 L662.1,546.9 L663.0,542.6 L663.8,540.9 L664.6,543.6 L665.3,550.1 L666.1,556.6 L666.8,559.3 L667.9,556.9 L669.1,551.0 L670.2,545.1 L671.3,542.7 L672.2,545.1 L673.0,551.1 L673.8,557.0 L674.6,559.5 L675.3,557.2 L675.9,551.6 L676.6,545.9 L677.3,543.6 L677.9,545.8 L678.6,551.2 L679.3,556.5 L680.0,558.7 L680.8,557.0 L681.7,552.7 L682.5,548.4 L683.3,546.7 L684.1,548.6 L684.9,553.3 L685.7,557.9 L686.5,559.9 L687.3,557.8 L688.1,553.0 L688.9,548.1 L689.7,546.1 L690.8,548.0 L691.9,552.7 L693.1,557.3 L694.2,559.3 L695.3,557.5 L696.5,553.3 L697.6,549.1 L698.8,547.3 L699.7,549.6 L700.6,555.1 L701.6,560.7 L702.5,563.0 L703.4,560.2 L704.2,553.4 L705.1,546.7 L706.0,543.9 L706.8,545.2 L707.6,548.2 L708.5,551.2 L709.3,552.4 L710.4,550.7 L711.5,546.4 L712.6,542.1 L713.8,540.4 L714.5,542.2 L715.2,546.7 L715.9,551.3 L716.6,553.1" stroke="#000000"/>
<path d="M448.2,675.0 L449.6,651.0 L451.3,626.6 L452.9,604.3 L454.5,588.0 L456.1,577.8 L457.8,569.7 L459.0,561.6 L460.4,549.4 L461.8,539.2 L463.0,538.2 L464.5,530.1 L465.9,526.0 L467.1,528.0 L468.5,532.1 L470.0,530.1 L471.6,534.1 L473.2,538.2 L475.2,551.4 L476.7,559.6 L478.1,565.7 L479.3,567.7 L480.7,557.5 L481.7,545.3 L483.0,543.3 L484.2,547.4 L485.8,555.5 L487.0,565.7 L488.3,581.9 L489.5,594.1 L490.9,600.2 L492.3,610.4 L493.9,622.6 L495.6,628.7 L497.0,620.5 L498.4,610.4 L500.0,604.3 L501.7,602.2 L503.3,610.4 L504.5,622.6 L505.7,634.8 L507.2,640.9 L508.6,628.7 L510.2,614.4 L511.8,606.3 L513.5,602.2 L515.1,598.2 L516.3,596.1 L517.5,604.3 L518.7,618.5 L520.0,630.7 L521.4,626.6 L522.8,620.5 L524.4,614.4 L526.1,608.3 L527.5,602.2 L528.9,588.0 L530.5,569.7 L532.2,549.4 L533.6,535.2 L534.6,517.9 L536.6,513.8 L538.7,519.9 L540.3,507.7 L541.7,517.9 L543.1,526.0 L544.8,517.9 L546.4,505.7 L547.8,489.4 L549.2,469.1 L550.9,458.9 L552.5,450.8 L553.9,446.7 L555.3,444.7 L556.5,450.8 L558.0,461.0 L559.4,475.2 L561.0,489.4 L562.6,503.7 L564.3,515.9 L566.1,526.0 L568.1,534.1 L570.2,542.3 L572.2,548.4 L575.2,557.5 L578.3,555.5 L580.3,551.4 L582.4,549.4 L585.0,547.4 L585.9,548.7 L586.8,551.9 L587.7,555.1 L588.6,556.5 L589.4,555.3 L590.3,552.5 L591.2,549.8 L592.1,548.6 L593.0,550.1 L593.9,553.6 L594.9,557.1 L595.8,558.6 L596.7,556.2 L597.6,550.6 L598.5,544.9 L599.4,542.6 L600.4,544.9 L601.3,550.3 L602.2,555.8 L603.2,558.0 L603.8,556.7 L604.5,553.5 L605.1,550.3 L605.8,549.0 L606.5,549.6 L607.1,551.2 L607.8,552.8 L608.4,553.5 L609.4,552.6 L610.4,550.4 L611.3,548.2 L612.3,547.3 L613.1,548.7 L613.8,552.1 L614.6,555.4 L615.3,556.8 L616.3,554.3 L617.2,548.1 L618.1,542.0 L619.0,539.5 L619.8,542.2 L620.6,548.8 L621.5,555.4 L622.3,558.1 L623.3,556.3 L624.3,551.8 L625.4,547.3 L626.4,545.4 L627.1,546.5 L627.8,549.1 L628.5,551.7 L629.1,552.8 L630.2,551.4 L631.2,548.0 L632.2,544.6 L633.3,543.2 L634.2,545.1 L635.2,549.8 L636.2,554.5 L637.2,556.4 L638.2,555.3 L639.2,552.6 L640.1,549.9 L641.1,548.7 L642.0,549.7 L642.8,552.1 L643.7,554.5 L644.5,555.5 L645.3,554.1 L646.0,550.9 L646.7,547.7 L647.4,546.3 L648.5,548.2 L649.5,552.6 L650.6,557.1 L651.6,559.0 L652.5,556.8 L653.3,551.5 L654.1,546.2 L654.9,544.0 L655.9,545.5 L656.9,549.1 L657.9,552.7 L658.9,554.2 L659.8,551.4 L660.7,544.7 L661.6,538.1 L662.5,535.3 L663.2,538.3 L663.9,545.5 L664.6,552.7 L665.2,555.7 L666.3,554.7 L667.4,552.2 L668.5,549.6 L669.6,548.6 L670.6,550.2 L671.6,554.1 L672.7,557.9 L673.7,559.5 L674.5,557.4 L675.4,552.4 L676.2,547.4 L677.1,545.4 L677.9,546.6 L678.7,549.6 L679.6,552.6 L680.4,553.8 L681.4,551.5 L682.4,545.7 L683.5,540.0 L684.5,537.6 L685.3,541.2 L686.1,549.9 L687.0,558.6 L687.8,562.2 L688.8,560.0 L689.7,554.8 L690.7,549.6 L691.7,547.5 L692.4,548.9 L693.1,552.2 L693.9,555.6 L694.6,557.0 L695.5,555.6 L696.4,552.4 L697.3,549.2 L698.2,547.9 L698.8,548.6 L699.5,550.1 L700.2,551.6 L700.9,552.2 L701.8,550.4 L702.7,546.1 L703.6,541.7 L704.6,539.9 L705.7,542.2 L706.8,547.8 L707.9,553.3 L709.0,555.6 L710.0,553.9 L711.1,549.8 L712.1,545.7 L713.1,544.0 L713.8,545.9 L714.5,550.3 L715.2,554.7 L715.9,556.5" stroke="#000080"/>
</g>
<line x1="198.0" y1="175.70" x2="250.6" y2="175.70" stroke="#000000" stroke-width="1.5" stroke-dasharray="14.2 4.6"/>
<text x="268.6" y="180.30" font-size="13.4">WT</text>
<line x1="198.0" y1="190.68" x2="250.6" y2="190.68" stroke="#ff0000" stroke-width="1.5" stroke-dasharray="14.2 4.6"/>
<text x="268.6" y="195.28" font-size="13.4">E81K</text>
<line x1="198.0" y1="205.66" x2="250.6" y2="205.66" stroke="#00ee00" stroke-width="1.5" stroke-dasharray="14.2 4.6"/>
<text x="268.6" y="210.26" font-size="13.4">R135K</text>
<line x1="198.0" y1="220.64" x2="250.6" y2="220.64" stroke="#0000ff" stroke-width="1.5" stroke-dasharray="14.2 4.6"/>
<text x="268.6" y="225.24" font-size="13.4">D162G</text>
<line x1="198.0" y1="235.62" x2="250.6" y2="235.62" stroke="#ff00ff" stroke-width="1.5" stroke-dasharray="14.2 4.6"/>
<text x="268.6" y="240.22" font-size="13.4">R191H</text>
<line x1="198.0" y1="250.60" x2="250.6" y2="250.60" stroke="#00ffff" stroke-width="1.5" stroke-dasharray="14.2 4.6"/>
<text x="268.6" y="255.20" font-size="13.4">Y316F</text>
<line x1="198.0" y1="265.58" x2="250.6" y2="265.58" stroke="#c0c0c0" stroke-width="1.5" stroke-dasharray="14.2 4.6"/>
<text x="268.6" y="270.18" font-size="13.4">P319S</text>
<line x1="198.0" y1="280.56" x2="250.6" y2="280.56" stroke="#800080" stroke-width="1.5" stroke-dasharray="14.2 4.6"/>
<text x="268.6" y="285.16" font-size="13.4">E322V</text>
<line x1="606.2" y1="25.30" x2="637.4" y2="25.30" stroke="#000000" stroke-width="1.5"/>
<text x="644.8" y="29.90" font-size="13.4">WT</text>
<line x1="606.2" y1="40.32" x2="637.4" y2="40.32" stroke="#ff0000" stroke-width="1.5"/>
<text x="644.8" y="44.92" font-size="13.4">E81K</text>
<line x1="606.2" y1="55.34" x2="637.4" y2="55.34" stroke="#00ee00" stroke-width="1.5"/>
<text x="644.8" y="59.94" font-size="13.4">R135K</text>
<line x1="606.2" y1="70.36" x2="637.4" y2="70.36" stroke="#00ffff" stroke-width="1.5"/>
<text x="644.8" y="74.96" font-size="13.4">Y316F</text>
<line x1="606.2" y1="85.38" x2="637.4" y2="85.38" stroke="#0000ff" stroke-width="1.5"/>
<text x="644.8" y="89.98" font-size="13.4">D162G</text>
<line x1="606.2" y1="100.40" x2="637.4" y2="100.40" stroke="#ff00ff" stroke-width="1.5"/>
<text x="644.8" y="105.00" font-size="13.4">R191H</text>
<line x1="606.2" y1="115.42" x2="637.4" y2="115.42" stroke="#c0c0c0" stroke-width="1.5"/>
<text x="644.8" y="120.02" font-size="13.4">P319S</text>
<line x1="606.2" y1="130.44" x2="637.4" y2="130.44" stroke="#800080" stroke-width="1.5"/>
<text x="644.8" y="135.04" font-size="13.4">E322V</text>
<line x1="200.4" y1="589.20" x2="252.0" y2="589.20" stroke="#000000" stroke-width="1.5" stroke-dasharray="14 4.8"/>
<text x="271.5" y="593.80" font-size="13.4">WT</text>
<line x1="200.4" y1="604.25" x2="252.0" y2="604.25" stroke="#008000" stroke-width="1.5" stroke-dasharray="14 4.8"/>
<text x="271.5" y="608.85" font-size="13.4">E98K</text>
<line x1="200.4" y1="619.30" x2="252.0" y2="619.30" stroke="#000080" stroke-width="1.5" stroke-dasharray="14 4.8"/>
<text x="271.5" y="623.90" font-size="13.4">E339V</text>
<line x1="200.4" y1="634.35" x2="252.0" y2="634.35" stroke="#c0c0c0" stroke-width="1.5" stroke-dasharray="14 4.8"/>
<text x="271.5" y="638.95" font-size="13.4">P336Q</text>
<line x1="200.4" y1="649.40" x2="252.0" y2="649.40" stroke="#ff00ff" stroke-width="1.5" stroke-dasharray="14 4.8"/>
<text x="271.5" y="654.00" font-size="13.4">R152W</text>
<line x1="559.2" y1="598.40" x2="590.6" y2="598.40" stroke="#000000" stroke-width="1.5"/>
<text x="598.0" y="603.00" font-size="13.4">WT</text>
<line x1="559.2" y1="613.40" x2="590.6" y2="613.40" stroke="#008000" stroke-width="1.5"/>
<text x="598.0" y="618.00" font-size="13.4">E98K</text>
<line x1="559.2" y1="628.40" x2="590.6" y2="628.40" stroke="#c0c0c0" stroke-width="1.5"/>
<text x="598.0" y="633.00" font-size="13.4">P336Q</text>
<line x1="559.2" y1="643.40" x2="590.6" y2="643.40" stroke="#000080" stroke-width="1.5"/>
<text x="598.0" y="648.00" font-size="13.4">E339V</text>
<line x1="559.2" y1="658.40" x2="590.6" y2="658.40" stroke="#ff00ff" stroke-width="1.5"/>
<text x="598.0" y="663.00" font-size="13.4">R152W</text>
<text x="9.8" y="31.2" font-size="22" font-weight="bold">A</text>
<text x="743.8" y="30.8" font-size="22" font-weight="bold">B</text>
<text x="15.2" y="399.1" font-size="22" font-weight="bold">C</text>
<text x="749.8" y="399.2" font-size="22" font-weight="bold">D</text>
</svg></body></html>
